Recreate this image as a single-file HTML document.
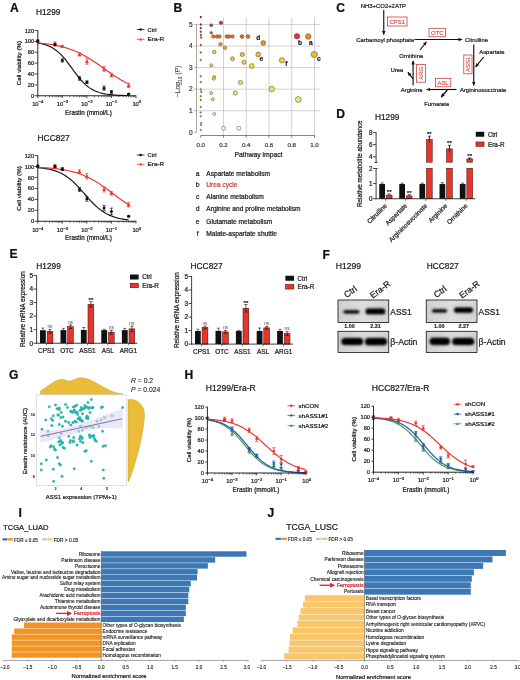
<!DOCTYPE html>
<html lang="en"><head><meta charset="utf-8"><title>Figure</title>
<style>
html,body{margin:0;padding:0;background:#fff;}
svg text{stroke-width:0.22px;stroke:#1a1a1a}
svg{display:block;font-family:'Liberation Sans', Arial, sans-serif;}
</style></head><body>
<svg width="520" height="680" viewBox="0 0 520 680">
<rect width="520" height="680" fill="#ffffff"/>
<g fill="#1a1a1a" stroke="none">
<text x="10.00" y="11.96" font-size="12.1" font-weight="bold" fill="#111" style="stroke:#111;">A</text>
<text x="36.00" y="15.32" font-size="8.4" textLength="24.50" lengthAdjust="spacingAndGlyphs">H1299</text>
<path d="M37.80,43.01 L38.94,43.20 L40.07,43.41 L41.21,43.65 L42.34,43.91 L43.48,44.21 L44.61,44.53 L45.75,44.89 L46.88,45.29 L48.02,45.73 L49.15,46.21 L50.29,46.74 L51.43,47.33 L52.56,47.96 L53.70,48.66 L54.83,49.42 L55.97,50.24 L57.10,51.12 L58.24,52.08 L59.37,53.10 L60.51,54.19 L61.64,55.35 L62.78,56.58 L63.92,57.87 L65.05,59.22 L66.19,60.63 L67.32,62.08 L68.46,63.58 L69.59,65.10 L70.73,66.65 L71.86,68.21 L73.00,69.77 L74.13,71.33 L75.27,72.86 L76.40,74.37 L77.54,75.84 L78.68,77.27 L79.81,78.65 L80.95,79.97 L82.08,81.22 L83.22,82.42 L84.35,83.54 L85.49,84.59 L86.62,85.58 L87.76,86.50 L88.89,87.35 L90.03,88.13 L91.17,88.85 L92.30,89.52 L93.44,90.12 L94.57,90.68 L95.71,91.18 L96.84,91.64 L97.98,92.06 L99.11,92.43 L100.25,92.77 L101.38,93.08 L102.52,93.36 L103.66,93.61 L104.79,93.83 L105.93,94.04 L107.06,94.22 L108.20,94.38 L109.33,94.52 L110.47,94.65 L111.60,94.77 L112.74,94.88 L113.87,94.97 L115.01,95.05 L116.15,95.13 L117.28,95.20 L118.42,95.25 L119.55,95.31 L120.69,95.36 L121.82,95.40 L122.96,95.44 L124.09,95.47 L125.23,95.50 L126.36,95.53 L127.50,95.55 L128.63,95.57" fill="none" stroke="#111111" stroke-width="1.15" stroke-linejoin="round"/>
<path d="M37.80,43.00 L38.94,43.10 L40.07,43.20 L41.21,43.31 L42.34,43.42 L43.48,43.54 L44.61,43.67 L45.75,43.80 L46.88,43.95 L48.02,44.10 L49.15,44.25 L50.29,44.42 L51.43,44.60 L52.56,44.78 L53.70,44.98 L54.83,45.19 L55.97,45.40 L57.10,45.63 L58.24,45.87 L59.37,46.12 L60.51,46.39 L61.64,46.66 L62.78,46.96 L63.92,47.26 L65.05,47.58 L66.19,47.92 L67.32,48.27 L68.46,48.64 L69.59,49.02 L70.73,49.42 L71.86,49.84 L73.00,50.27 L74.13,50.73 L75.27,51.20 L76.40,51.69 L77.54,52.19 L78.68,52.72 L79.81,53.26 L80.95,53.83 L82.08,54.41 L83.22,55.01 L84.35,55.63 L85.49,56.26 L86.62,56.92 L87.76,57.59 L88.89,58.27 L90.03,58.98 L91.17,59.69 L92.30,60.42 L93.44,61.17 L94.57,61.93 L95.71,62.69 L96.84,63.47 L97.98,64.26 L99.11,65.05 L100.25,65.85 L101.38,66.66 L102.52,67.46 L103.66,68.27 L104.79,69.08 L105.93,69.89 L107.06,70.70 L108.20,71.50 L109.33,72.30 L110.47,73.10 L111.60,73.88 L112.74,74.65 L113.87,75.42 L115.01,76.17 L116.15,76.91 L117.28,77.64 L118.42,78.35 L119.55,79.05 L120.69,79.73 L121.82,80.40 L122.96,81.05 L124.09,81.68 L125.23,82.29 L126.36,82.89 L127.50,83.46 L128.63,84.02" fill="none" stroke="#e8352b" stroke-width="1.15" stroke-linejoin="round"/>
<path d="M37.80,39.35 L39.75,42.88 L35.85,42.88Z" fill="#e8352b" />
<line x1="54.96" y1="41.92" x2="54.96" y2="45.18" stroke="#e8352b" stroke-width="0.7" />
<line x1="53.36" y1="41.92" x2="56.56" y2="41.92" stroke="#e8352b" stroke-width="0.7" />
<line x1="53.36" y1="45.18" x2="56.56" y2="45.18" stroke="#e8352b" stroke-width="0.7" />
<path d="M54.96,41.53 L56.91,45.05 L53.01,45.05Z" fill="#e8352b" />
<line x1="62.35" y1="45.45" x2="62.35" y2="47.08" stroke="#e8352b" stroke-width="0.7" />
<line x1="60.75" y1="45.45" x2="63.95" y2="45.45" stroke="#e8352b" stroke-width="0.7" />
<line x1="60.75" y1="47.08" x2="63.95" y2="47.08" stroke="#e8352b" stroke-width="0.7" />
<path d="M62.35,44.24 L64.30,47.77 L60.40,47.77Z" fill="#e8352b" />
<line x1="79.51" y1="52.79" x2="79.51" y2="56.06" stroke="#e8352b" stroke-width="0.7" />
<line x1="77.91" y1="52.79" x2="81.11" y2="52.79" stroke="#e8352b" stroke-width="0.7" />
<line x1="77.91" y1="56.06" x2="81.11" y2="56.06" stroke="#e8352b" stroke-width="0.7" />
<path d="M79.51,52.40 L81.46,55.93 L77.56,55.93Z" fill="#e8352b" />
<line x1="86.90" y1="58.78" x2="86.90" y2="64.21" stroke="#e8352b" stroke-width="0.7" />
<line x1="85.30" y1="58.78" x2="88.50" y2="58.78" stroke="#e8352b" stroke-width="0.7" />
<line x1="85.30" y1="64.21" x2="88.50" y2="64.21" stroke="#e8352b" stroke-width="0.7" />
<path d="M86.90,59.47 L88.85,62.99 L84.95,62.99Z" fill="#e8352b" />
<line x1="104.06" y1="66.66" x2="104.06" y2="71.55" stroke="#e8352b" stroke-width="0.7" />
<line x1="102.46" y1="66.66" x2="105.66" y2="66.66" stroke="#e8352b" stroke-width="0.7" />
<line x1="102.46" y1="71.55" x2="105.66" y2="71.55" stroke="#e8352b" stroke-width="0.7" />
<path d="M104.06,67.08 L106.01,70.61 L102.11,70.61Z" fill="#e8352b" />
<line x1="111.45" y1="73.18" x2="111.45" y2="76.99" stroke="#e8352b" stroke-width="0.7" />
<line x1="109.85" y1="73.18" x2="113.05" y2="73.18" stroke="#e8352b" stroke-width="0.7" />
<line x1="109.85" y1="76.99" x2="113.05" y2="76.99" stroke="#e8352b" stroke-width="0.7" />
<path d="M111.45,73.06 L113.40,76.59 L109.50,76.59Z" fill="#e8352b" />
<line x1="128.61" y1="83.24" x2="128.61" y2="87.59" stroke="#e8352b" stroke-width="0.7" />
<line x1="127.01" y1="83.24" x2="130.21" y2="83.24" stroke="#e8352b" stroke-width="0.7" />
<line x1="127.01" y1="87.59" x2="130.21" y2="87.59" stroke="#e8352b" stroke-width="0.7" />
<path d="M128.61,83.39 L130.56,86.92 L126.66,86.92Z" fill="#e8352b" />
<line x1="37.80" y1="40.02" x2="37.80" y2="41.65" stroke="#111111" stroke-width="0.7" />
<line x1="36.20" y1="40.02" x2="39.40" y2="40.02" stroke="#111111" stroke-width="0.7" />
<line x1="36.20" y1="41.65" x2="39.40" y2="41.65" stroke="#111111" stroke-width="0.7" />
<circle cx="37.80" cy="40.83" r="1.50" fill="#111111" />
<line x1="54.96" y1="43.55" x2="54.96" y2="45.73" stroke="#111111" stroke-width="0.7" />
<line x1="53.36" y1="43.55" x2="56.56" y2="43.55" stroke="#111111" stroke-width="0.7" />
<line x1="53.36" y1="45.73" x2="56.56" y2="45.73" stroke="#111111" stroke-width="0.7" />
<circle cx="54.96" cy="44.64" r="1.50" fill="#111111" />
<line x1="62.35" y1="58.78" x2="62.35" y2="62.04" stroke="#111111" stroke-width="0.7" />
<line x1="60.75" y1="58.78" x2="63.95" y2="58.78" stroke="#111111" stroke-width="0.7" />
<line x1="60.75" y1="62.04" x2="63.95" y2="62.04" stroke="#111111" stroke-width="0.7" />
<circle cx="62.35" cy="60.41" r="1.50" fill="#111111" />
<line x1="79.51" y1="76.45" x2="79.51" y2="80.25" stroke="#111111" stroke-width="0.7" />
<line x1="77.91" y1="76.45" x2="81.11" y2="76.45" stroke="#111111" stroke-width="0.7" />
<line x1="77.91" y1="80.25" x2="81.11" y2="80.25" stroke="#111111" stroke-width="0.7" />
<circle cx="79.51" cy="78.35" r="1.50" fill="#111111" />
<line x1="86.90" y1="80.80" x2="86.90" y2="83.52" stroke="#111111" stroke-width="0.7" />
<line x1="85.30" y1="80.80" x2="88.50" y2="80.80" stroke="#111111" stroke-width="0.7" />
<line x1="85.30" y1="83.52" x2="88.50" y2="83.52" stroke="#111111" stroke-width="0.7" />
<circle cx="86.90" cy="82.16" r="1.50" fill="#111111" />
<line x1="104.06" y1="85.96" x2="104.06" y2="90.31" stroke="#111111" stroke-width="0.7" />
<line x1="102.46" y1="85.96" x2="105.66" y2="85.96" stroke="#111111" stroke-width="0.7" />
<line x1="102.46" y1="90.31" x2="105.66" y2="90.31" stroke="#111111" stroke-width="0.7" />
<circle cx="104.06" cy="88.14" r="1.50" fill="#111111" />
<line x1="111.45" y1="90.58" x2="111.45" y2="93.30" stroke="#111111" stroke-width="0.7" />
<line x1="109.85" y1="90.58" x2="113.05" y2="90.58" stroke="#111111" stroke-width="0.7" />
<line x1="109.85" y1="93.30" x2="113.05" y2="93.30" stroke="#111111" stroke-width="0.7" />
<circle cx="111.45" cy="91.94" r="1.50" fill="#111111" />
<line x1="128.61" y1="93.58" x2="128.61" y2="94.66" stroke="#111111" stroke-width="0.7" />
<line x1="127.01" y1="93.58" x2="130.21" y2="93.58" stroke="#111111" stroke-width="0.7" />
<line x1="127.01" y1="94.66" x2="130.21" y2="94.66" stroke="#111111" stroke-width="0.7" />
<circle cx="128.61" cy="94.12" r="1.50" fill="#111111" />
<line x1="37.80" y1="30.20" x2="37.80" y2="96.20" stroke="#111" stroke-width="0.9" />
<line x1="37.35" y1="95.75" x2="136.30" y2="95.75" stroke="#111" stroke-width="0.9" />
<line x1="34.50" y1="95.75" x2="37.80" y2="95.75" stroke="#111" stroke-width="0.75" />
<text x="34.20" y="97.80" font-size="5.7" text-anchor="end">0</text>
<line x1="34.50" y1="84.88" x2="37.80" y2="84.88" stroke="#111" stroke-width="0.75" />
<text x="34.20" y="86.93" font-size="5.7" text-anchor="end">20</text>
<line x1="34.50" y1="74.00" x2="37.80" y2="74.00" stroke="#111" stroke-width="0.75" />
<text x="34.20" y="76.05" font-size="5.7" text-anchor="end">40</text>
<line x1="34.50" y1="63.12" x2="37.80" y2="63.12" stroke="#111" stroke-width="0.75" />
<text x="34.20" y="65.18" font-size="5.7" text-anchor="end">60</text>
<line x1="34.50" y1="52.25" x2="37.80" y2="52.25" stroke="#111" stroke-width="0.75" />
<text x="34.20" y="54.30" font-size="5.7" text-anchor="end">80</text>
<line x1="34.50" y1="41.38" x2="37.80" y2="41.38" stroke="#111" stroke-width="0.75" />
<text x="34.20" y="43.43" font-size="5.7" text-anchor="end">100</text>
<line x1="34.50" y1="30.50" x2="37.80" y2="30.50" stroke="#111" stroke-width="0.75" />
<text x="34.20" y="32.55" font-size="5.7" text-anchor="end">120</text>
<line x1="37.80" y1="95.75" x2="37.80" y2="98.15" stroke="#111" stroke-width="0.7" />
<line x1="45.19" y1="95.75" x2="45.19" y2="97.25" stroke="#111" stroke-width="0.6" />
<line x1="49.51" y1="95.75" x2="49.51" y2="97.25" stroke="#111" stroke-width="0.6" />
<line x1="52.58" y1="95.75" x2="52.58" y2="97.25" stroke="#111" stroke-width="0.6" />
<line x1="54.96" y1="95.75" x2="54.96" y2="97.25" stroke="#111" stroke-width="0.6" />
<line x1="56.90" y1="95.75" x2="56.90" y2="97.25" stroke="#111" stroke-width="0.6" />
<line x1="58.55" y1="95.75" x2="58.55" y2="97.25" stroke="#111" stroke-width="0.6" />
<line x1="59.97" y1="95.75" x2="59.97" y2="97.25" stroke="#111" stroke-width="0.6" />
<line x1="61.23" y1="95.75" x2="61.23" y2="97.25" stroke="#111" stroke-width="0.6" />
<text x="37.80" y="105.69" font-size="5.8" text-anchor="middle">10<tspan dy="-2.20" font-size="4.29">−4</tspan></text>
<line x1="62.35" y1="95.75" x2="62.35" y2="98.15" stroke="#111" stroke-width="0.7" />
<line x1="69.74" y1="95.75" x2="69.74" y2="97.25" stroke="#111" stroke-width="0.6" />
<line x1="74.06" y1="95.75" x2="74.06" y2="97.25" stroke="#111" stroke-width="0.6" />
<line x1="77.13" y1="95.75" x2="77.13" y2="97.25" stroke="#111" stroke-width="0.6" />
<line x1="79.51" y1="95.75" x2="79.51" y2="97.25" stroke="#111" stroke-width="0.6" />
<line x1="81.45" y1="95.75" x2="81.45" y2="97.25" stroke="#111" stroke-width="0.6" />
<line x1="83.10" y1="95.75" x2="83.10" y2="97.25" stroke="#111" stroke-width="0.6" />
<line x1="84.52" y1="95.75" x2="84.52" y2="97.25" stroke="#111" stroke-width="0.6" />
<line x1="85.78" y1="95.75" x2="85.78" y2="97.25" stroke="#111" stroke-width="0.6" />
<text x="62.35" y="105.69" font-size="5.8" text-anchor="middle">10<tspan dy="-2.20" font-size="4.29">−3</tspan></text>
<line x1="86.90" y1="95.75" x2="86.90" y2="98.15" stroke="#111" stroke-width="0.7" />
<line x1="94.29" y1="95.75" x2="94.29" y2="97.25" stroke="#111" stroke-width="0.6" />
<line x1="98.61" y1="95.75" x2="98.61" y2="97.25" stroke="#111" stroke-width="0.6" />
<line x1="101.68" y1="95.75" x2="101.68" y2="97.25" stroke="#111" stroke-width="0.6" />
<line x1="104.06" y1="95.75" x2="104.06" y2="97.25" stroke="#111" stroke-width="0.6" />
<line x1="106.00" y1="95.75" x2="106.00" y2="97.25" stroke="#111" stroke-width="0.6" />
<line x1="107.65" y1="95.75" x2="107.65" y2="97.25" stroke="#111" stroke-width="0.6" />
<line x1="109.07" y1="95.75" x2="109.07" y2="97.25" stroke="#111" stroke-width="0.6" />
<line x1="110.33" y1="95.75" x2="110.33" y2="97.25" stroke="#111" stroke-width="0.6" />
<text x="86.90" y="105.69" font-size="5.8" text-anchor="middle">10<tspan dy="-2.20" font-size="4.29">−2</tspan></text>
<line x1="111.45" y1="95.75" x2="111.45" y2="98.15" stroke="#111" stroke-width="0.7" />
<line x1="118.84" y1="95.75" x2="118.84" y2="97.25" stroke="#111" stroke-width="0.6" />
<line x1="123.16" y1="95.75" x2="123.16" y2="97.25" stroke="#111" stroke-width="0.6" />
<line x1="126.23" y1="95.75" x2="126.23" y2="97.25" stroke="#111" stroke-width="0.6" />
<line x1="128.61" y1="95.75" x2="128.61" y2="97.25" stroke="#111" stroke-width="0.6" />
<line x1="130.55" y1="95.75" x2="130.55" y2="97.25" stroke="#111" stroke-width="0.6" />
<line x1="132.20" y1="95.75" x2="132.20" y2="97.25" stroke="#111" stroke-width="0.6" />
<line x1="133.62" y1="95.75" x2="133.62" y2="97.25" stroke="#111" stroke-width="0.6" />
<line x1="134.88" y1="95.75" x2="134.88" y2="97.25" stroke="#111" stroke-width="0.6" />
<text x="111.45" y="105.69" font-size="5.8" text-anchor="middle">10<tspan dy="-2.20" font-size="4.29">−1</tspan></text>
<line x1="136.00" y1="95.75" x2="136.00" y2="98.15" stroke="#111" stroke-width="0.7" />
<text x="136.80" y="105.69" font-size="5.8" text-anchor="middle">10<tspan dy="-2.20" font-size="4.29">0</tspan></text>
<text x="0" y="2.23" font-size="6.2" text-anchor="middle" textLength="44.50" lengthAdjust="spacingAndGlyphs" transform="translate(18.30 63.12) rotate(-90)">Cell viability (%)</text>
<text x="88.40" y="114.77" font-size="6.3" text-anchor="middle" textLength="46.80" lengthAdjust="spacingAndGlyphs">Erastin (mmol/L)</text>
<line x1="136.75" y1="29.50" x2="144.50" y2="29.50" stroke="#111111" stroke-width="0.8" />
<circle cx="140.62" cy="29.50" r="1.30" fill="#111111" />
<text x="147.50" y="31.66" font-size="6.0" textLength="9.00" lengthAdjust="spacingAndGlyphs">Ctrl</text>
<line x1="136.75" y1="39.25" x2="144.50" y2="39.25" stroke="#e8352b" stroke-width="0.8" />
<path d="M140.62,37.69 L142.12,40.42 L139.13,40.42Z" fill="#e8352b" />
<text x="147.50" y="41.41" font-size="6.0" textLength="16.70" lengthAdjust="spacingAndGlyphs">Era-R</text>
<text x="37.50" y="141.02" font-size="8.4" textLength="32.30" lengthAdjust="spacingAndGlyphs">HCC827</text>
<path d="M37.80,167.63 L38.94,167.73 L40.07,167.85 L41.21,167.97 L42.34,168.11 L43.48,168.26 L44.61,168.43 L45.75,168.61 L46.88,168.81 L48.02,169.02 L49.15,169.26 L50.29,169.51 L51.43,169.79 L52.56,170.09 L53.70,170.42 L54.83,170.78 L55.97,171.16 L57.10,171.58 L58.24,172.03 L59.37,172.51 L60.51,173.04 L61.64,173.60 L62.78,174.20 L63.92,174.85 L65.05,175.54 L66.19,176.28 L67.32,177.06 L68.46,177.89 L69.59,178.76 L70.73,179.68 L71.86,180.65 L73.00,181.67 L74.13,182.73 L75.27,183.83 L76.40,184.97 L77.54,186.14 L78.68,187.35 L79.81,188.59 L80.95,189.85 L82.08,191.12 L83.22,192.41 L84.35,193.70 L85.49,195.00 L86.62,196.29 L87.76,197.57 L88.89,198.83 L90.03,200.08 L91.17,201.29 L92.30,202.48 L93.44,203.63 L94.57,204.74 L95.71,205.81 L96.84,206.84 L97.98,207.83 L99.11,208.76 L100.25,209.65 L101.38,210.49 L102.52,211.29 L103.66,212.04 L104.79,212.74 L105.93,213.40 L107.06,214.02 L108.20,214.59 L109.33,215.13 L110.47,215.62 L111.60,216.08 L112.74,216.51 L113.87,216.91 L115.01,217.27 L116.15,217.61 L117.28,217.91 L118.42,218.20 L119.55,218.46 L120.69,218.70 L121.82,218.92 L122.96,219.12 L124.09,219.31 L125.23,219.48 L126.36,219.64 L127.50,219.78 L128.63,219.91" fill="none" stroke="#111111" stroke-width="1.15" stroke-linejoin="round"/>
<path d="M37.80,167.36 L38.94,167.42 L40.07,167.47 L41.21,167.53 L42.34,167.59 L43.48,167.66 L44.61,167.73 L45.75,167.81 L46.88,167.89 L48.02,167.97 L49.15,168.06 L50.29,168.16 L51.43,168.26 L52.56,168.37 L53.70,168.48 L54.83,168.60 L55.97,168.73 L57.10,168.87 L58.24,169.01 L59.37,169.16 L60.51,169.32 L61.64,169.49 L62.78,169.68 L63.92,169.87 L65.05,170.07 L66.19,170.28 L67.32,170.51 L68.46,170.74 L69.59,170.99 L70.73,171.26 L71.86,171.54 L73.00,171.83 L74.13,172.14 L75.27,172.46 L76.40,172.80 L77.54,173.16 L78.68,173.53 L79.81,173.92 L80.95,174.33 L82.08,174.76 L83.22,175.21 L84.35,175.68 L85.49,176.17 L86.62,176.67 L87.76,177.20 L88.89,177.75 L90.03,178.32 L91.17,178.92 L92.30,179.53 L93.44,180.16 L94.57,180.81 L95.71,181.48 L96.84,182.18 L97.98,182.89 L99.11,183.62 L100.25,184.36 L101.38,185.13 L102.52,185.91 L103.66,186.70 L104.79,187.50 L105.93,188.32 L107.06,189.15 L108.20,189.99 L109.33,190.83 L110.47,191.69 L111.60,192.54 L112.74,193.40 L113.87,194.26 L115.01,195.12 L116.15,195.97 L117.28,196.83 L118.42,197.67 L119.55,198.51 L120.69,199.34 L121.82,200.16 L122.96,200.97 L124.09,201.77 L125.23,202.55 L126.36,203.31 L127.50,204.06 L128.63,204.79" fill="none" stroke="#e8352b" stroke-width="1.15" stroke-linejoin="round"/>
<path d="M37.80,164.52 L39.75,168.04 L35.85,168.04Z" fill="#e8352b" />
<line x1="54.96" y1="164.35" x2="54.96" y2="167.64" stroke="#e8352b" stroke-width="0.7" />
<line x1="53.36" y1="164.35" x2="56.56" y2="164.35" stroke="#e8352b" stroke-width="0.7" />
<line x1="53.36" y1="167.64" x2="56.56" y2="167.64" stroke="#e8352b" stroke-width="0.7" />
<path d="M54.96,163.97 L56.91,167.49 L53.01,167.49Z" fill="#e8352b" />
<line x1="62.35" y1="167.64" x2="62.35" y2="169.82" stroke="#e8352b" stroke-width="0.7" />
<line x1="60.75" y1="167.64" x2="63.95" y2="167.64" stroke="#e8352b" stroke-width="0.7" />
<line x1="60.75" y1="169.82" x2="63.95" y2="169.82" stroke="#e8352b" stroke-width="0.7" />
<path d="M62.35,166.70 L64.30,170.23 L60.40,170.23Z" fill="#e8352b" />
<line x1="79.51" y1="169.82" x2="79.51" y2="173.11" stroke="#e8352b" stroke-width="0.7" />
<line x1="77.91" y1="169.82" x2="81.11" y2="169.82" stroke="#e8352b" stroke-width="0.7" />
<line x1="77.91" y1="173.11" x2="81.11" y2="173.11" stroke="#e8352b" stroke-width="0.7" />
<path d="M79.51,169.44 L81.46,172.97 L77.56,172.97Z" fill="#e8352b" />
<line x1="86.90" y1="173.65" x2="86.90" y2="179.12" stroke="#e8352b" stroke-width="0.7" />
<line x1="85.30" y1="173.65" x2="88.50" y2="173.65" stroke="#e8352b" stroke-width="0.7" />
<line x1="85.30" y1="179.12" x2="88.50" y2="179.12" stroke="#e8352b" stroke-width="0.7" />
<path d="M86.90,174.36 L88.85,177.89 L84.95,177.89Z" fill="#e8352b" />
<line x1="104.06" y1="187.06" x2="104.06" y2="191.98" stroke="#e8352b" stroke-width="0.7" />
<line x1="102.46" y1="187.06" x2="105.66" y2="187.06" stroke="#e8352b" stroke-width="0.7" />
<line x1="102.46" y1="191.98" x2="105.66" y2="191.98" stroke="#e8352b" stroke-width="0.7" />
<path d="M104.06,187.49 L106.01,191.02 L102.11,191.02Z" fill="#e8352b" />
<line x1="111.45" y1="191.71" x2="111.45" y2="194.99" stroke="#e8352b" stroke-width="0.7" />
<line x1="109.85" y1="191.71" x2="113.05" y2="191.71" stroke="#e8352b" stroke-width="0.7" />
<line x1="109.85" y1="194.99" x2="113.05" y2="194.99" stroke="#e8352b" stroke-width="0.7" />
<path d="M111.45,191.32 L113.40,194.85 L109.50,194.85Z" fill="#e8352b" />
<line x1="128.61" y1="202.65" x2="128.61" y2="207.03" stroke="#e8352b" stroke-width="0.7" />
<line x1="127.01" y1="202.65" x2="130.21" y2="202.65" stroke="#e8352b" stroke-width="0.7" />
<line x1="127.01" y1="207.03" x2="130.21" y2="207.03" stroke="#e8352b" stroke-width="0.7" />
<path d="M128.61,202.81 L130.56,206.34 L126.66,206.34Z" fill="#e8352b" />
<line x1="37.80" y1="165.17" x2="37.80" y2="166.82" stroke="#111111" stroke-width="0.7" />
<line x1="36.20" y1="165.17" x2="39.40" y2="165.17" stroke="#111111" stroke-width="0.7" />
<line x1="36.20" y1="166.82" x2="39.40" y2="166.82" stroke="#111111" stroke-width="0.7" />
<circle cx="37.80" cy="165.99" r="1.50" fill="#111111" />
<line x1="54.96" y1="165.45" x2="54.96" y2="167.64" stroke="#111111" stroke-width="0.7" />
<line x1="53.36" y1="165.45" x2="56.56" y2="165.45" stroke="#111111" stroke-width="0.7" />
<line x1="53.36" y1="167.64" x2="56.56" y2="167.64" stroke="#111111" stroke-width="0.7" />
<circle cx="54.96" cy="166.54" r="1.50" fill="#111111" />
<line x1="62.35" y1="167.91" x2="62.35" y2="170.64" stroke="#111111" stroke-width="0.7" />
<line x1="60.75" y1="167.91" x2="63.95" y2="167.91" stroke="#111111" stroke-width="0.7" />
<line x1="60.75" y1="170.64" x2="63.95" y2="170.64" stroke="#111111" stroke-width="0.7" />
<circle cx="62.35" cy="169.28" r="1.50" fill="#111111" />
<line x1="79.51" y1="187.60" x2="79.51" y2="191.43" stroke="#111111" stroke-width="0.7" />
<line x1="77.91" y1="187.60" x2="81.11" y2="187.60" stroke="#111111" stroke-width="0.7" />
<line x1="77.91" y1="191.43" x2="81.11" y2="191.43" stroke="#111111" stroke-width="0.7" />
<circle cx="79.51" cy="189.52" r="1.50" fill="#111111" />
<line x1="86.90" y1="196.36" x2="86.90" y2="201.28" stroke="#111111" stroke-width="0.7" />
<line x1="85.30" y1="196.36" x2="88.50" y2="196.36" stroke="#111111" stroke-width="0.7" />
<line x1="85.30" y1="201.28" x2="88.50" y2="201.28" stroke="#111111" stroke-width="0.7" />
<circle cx="86.90" cy="198.82" r="1.50" fill="#111111" />
<line x1="104.06" y1="205.38" x2="104.06" y2="210.86" stroke="#111111" stroke-width="0.7" />
<line x1="102.46" y1="205.38" x2="105.66" y2="205.38" stroke="#111111" stroke-width="0.7" />
<line x1="102.46" y1="210.86" x2="105.66" y2="210.86" stroke="#111111" stroke-width="0.7" />
<circle cx="104.06" cy="208.12" r="1.50" fill="#111111" />
<line x1="111.45" y1="208.12" x2="111.45" y2="214.69" stroke="#111111" stroke-width="0.7" />
<line x1="109.85" y1="208.12" x2="113.05" y2="208.12" stroke="#111111" stroke-width="0.7" />
<line x1="109.85" y1="214.69" x2="113.05" y2="214.69" stroke="#111111" stroke-width="0.7" />
<circle cx="111.45" cy="211.40" r="1.50" fill="#111111" />
<line x1="128.61" y1="215.78" x2="128.61" y2="216.87" stroke="#111111" stroke-width="0.7" />
<line x1="127.01" y1="215.78" x2="130.21" y2="215.78" stroke="#111111" stroke-width="0.7" />
<line x1="127.01" y1="216.87" x2="130.21" y2="216.87" stroke="#111111" stroke-width="0.7" />
<circle cx="128.61" cy="216.33" r="1.50" fill="#111111" />
<line x1="37.80" y1="155.30" x2="37.80" y2="221.70" stroke="#111" stroke-width="0.9" />
<line x1="37.35" y1="221.25" x2="136.30" y2="221.25" stroke="#111" stroke-width="0.9" />
<line x1="34.50" y1="221.25" x2="37.80" y2="221.25" stroke="#111" stroke-width="0.75" />
<text x="34.20" y="223.30" font-size="5.7" text-anchor="end">0</text>
<line x1="34.50" y1="210.31" x2="37.80" y2="210.31" stroke="#111" stroke-width="0.75" />
<text x="34.20" y="212.36" font-size="5.7" text-anchor="end">20</text>
<line x1="34.50" y1="199.37" x2="37.80" y2="199.37" stroke="#111" stroke-width="0.75" />
<text x="34.20" y="201.42" font-size="5.7" text-anchor="end">40</text>
<line x1="34.50" y1="188.43" x2="37.80" y2="188.43" stroke="#111" stroke-width="0.75" />
<text x="34.20" y="190.48" font-size="5.7" text-anchor="end">60</text>
<line x1="34.50" y1="177.48" x2="37.80" y2="177.48" stroke="#111" stroke-width="0.75" />
<text x="34.20" y="179.54" font-size="5.7" text-anchor="end">80</text>
<line x1="34.50" y1="166.54" x2="37.80" y2="166.54" stroke="#111" stroke-width="0.75" />
<text x="34.20" y="168.59" font-size="5.7" text-anchor="end">100</text>
<line x1="34.50" y1="155.60" x2="37.80" y2="155.60" stroke="#111" stroke-width="0.75" />
<text x="34.20" y="157.65" font-size="5.7" text-anchor="end">120</text>
<line x1="37.80" y1="221.25" x2="37.80" y2="223.65" stroke="#111" stroke-width="0.7" />
<line x1="45.19" y1="221.25" x2="45.19" y2="222.75" stroke="#111" stroke-width="0.6" />
<line x1="49.51" y1="221.25" x2="49.51" y2="222.75" stroke="#111" stroke-width="0.6" />
<line x1="52.58" y1="221.25" x2="52.58" y2="222.75" stroke="#111" stroke-width="0.6" />
<line x1="54.96" y1="221.25" x2="54.96" y2="222.75" stroke="#111" stroke-width="0.6" />
<line x1="56.90" y1="221.25" x2="56.90" y2="222.75" stroke="#111" stroke-width="0.6" />
<line x1="58.55" y1="221.25" x2="58.55" y2="222.75" stroke="#111" stroke-width="0.6" />
<line x1="59.97" y1="221.25" x2="59.97" y2="222.75" stroke="#111" stroke-width="0.6" />
<line x1="61.23" y1="221.25" x2="61.23" y2="222.75" stroke="#111" stroke-width="0.6" />
<text x="37.80" y="231.94" font-size="5.8" text-anchor="middle">10<tspan dy="-2.20" font-size="4.29">−4</tspan></text>
<line x1="62.35" y1="221.25" x2="62.35" y2="223.65" stroke="#111" stroke-width="0.7" />
<line x1="69.74" y1="221.25" x2="69.74" y2="222.75" stroke="#111" stroke-width="0.6" />
<line x1="74.06" y1="221.25" x2="74.06" y2="222.75" stroke="#111" stroke-width="0.6" />
<line x1="77.13" y1="221.25" x2="77.13" y2="222.75" stroke="#111" stroke-width="0.6" />
<line x1="79.51" y1="221.25" x2="79.51" y2="222.75" stroke="#111" stroke-width="0.6" />
<line x1="81.45" y1="221.25" x2="81.45" y2="222.75" stroke="#111" stroke-width="0.6" />
<line x1="83.10" y1="221.25" x2="83.10" y2="222.75" stroke="#111" stroke-width="0.6" />
<line x1="84.52" y1="221.25" x2="84.52" y2="222.75" stroke="#111" stroke-width="0.6" />
<line x1="85.78" y1="221.25" x2="85.78" y2="222.75" stroke="#111" stroke-width="0.6" />
<text x="62.35" y="231.94" font-size="5.8" text-anchor="middle">10<tspan dy="-2.20" font-size="4.29">−3</tspan></text>
<line x1="86.90" y1="221.25" x2="86.90" y2="223.65" stroke="#111" stroke-width="0.7" />
<line x1="94.29" y1="221.25" x2="94.29" y2="222.75" stroke="#111" stroke-width="0.6" />
<line x1="98.61" y1="221.25" x2="98.61" y2="222.75" stroke="#111" stroke-width="0.6" />
<line x1="101.68" y1="221.25" x2="101.68" y2="222.75" stroke="#111" stroke-width="0.6" />
<line x1="104.06" y1="221.25" x2="104.06" y2="222.75" stroke="#111" stroke-width="0.6" />
<line x1="106.00" y1="221.25" x2="106.00" y2="222.75" stroke="#111" stroke-width="0.6" />
<line x1="107.65" y1="221.25" x2="107.65" y2="222.75" stroke="#111" stroke-width="0.6" />
<line x1="109.07" y1="221.25" x2="109.07" y2="222.75" stroke="#111" stroke-width="0.6" />
<line x1="110.33" y1="221.25" x2="110.33" y2="222.75" stroke="#111" stroke-width="0.6" />
<text x="86.90" y="231.94" font-size="5.8" text-anchor="middle">10<tspan dy="-2.20" font-size="4.29">−2</tspan></text>
<line x1="111.45" y1="221.25" x2="111.45" y2="223.65" stroke="#111" stroke-width="0.7" />
<line x1="118.84" y1="221.25" x2="118.84" y2="222.75" stroke="#111" stroke-width="0.6" />
<line x1="123.16" y1="221.25" x2="123.16" y2="222.75" stroke="#111" stroke-width="0.6" />
<line x1="126.23" y1="221.25" x2="126.23" y2="222.75" stroke="#111" stroke-width="0.6" />
<line x1="128.61" y1="221.25" x2="128.61" y2="222.75" stroke="#111" stroke-width="0.6" />
<line x1="130.55" y1="221.25" x2="130.55" y2="222.75" stroke="#111" stroke-width="0.6" />
<line x1="132.20" y1="221.25" x2="132.20" y2="222.75" stroke="#111" stroke-width="0.6" />
<line x1="133.62" y1="221.25" x2="133.62" y2="222.75" stroke="#111" stroke-width="0.6" />
<line x1="134.88" y1="221.25" x2="134.88" y2="222.75" stroke="#111" stroke-width="0.6" />
<text x="111.45" y="231.94" font-size="5.8" text-anchor="middle">10<tspan dy="-2.20" font-size="4.29">−1</tspan></text>
<line x1="136.00" y1="221.25" x2="136.00" y2="223.65" stroke="#111" stroke-width="0.7" />
<text x="136.80" y="231.94" font-size="5.8" text-anchor="middle">10<tspan dy="-2.20" font-size="4.29">0</tspan></text>
<text x="0" y="2.23" font-size="6.2" text-anchor="middle" textLength="44.50" lengthAdjust="spacingAndGlyphs" transform="translate(18.30 188.43) rotate(-90)">Cell viability (%)</text>
<text x="88.40" y="240.27" font-size="6.3" text-anchor="middle" textLength="46.80" lengthAdjust="spacingAndGlyphs">Erastin (mmol/L)</text>
<line x1="136.75" y1="155.00" x2="144.50" y2="155.00" stroke="#111111" stroke-width="0.8" />
<circle cx="140.62" cy="155.00" r="1.30" fill="#111111" />
<text x="147.50" y="157.16" font-size="6.0" textLength="9.00" lengthAdjust="spacingAndGlyphs">Ctrl</text>
<line x1="136.75" y1="164.25" x2="144.50" y2="164.25" stroke="#e8352b" stroke-width="0.8" />
<path d="M140.62,162.69 L142.12,165.42 L139.13,165.42Z" fill="#e8352b" />
<text x="147.50" y="166.41" font-size="6.0" textLength="16.70" lengthAdjust="spacingAndGlyphs">Era-R</text>
<text x="173.60" y="11.96" font-size="12.1" font-weight="bold" fill="#111" style="stroke:#111;">B</text>
<line x1="223.50" y1="17.50" x2="223.50" y2="135.50" stroke="#b0b4bc" stroke-width="0.6" />
<line x1="246.25" y1="17.50" x2="246.25" y2="135.50" stroke="#b0b4bc" stroke-width="0.6" />
<line x1="269.00" y1="17.50" x2="269.00" y2="135.50" stroke="#b0b4bc" stroke-width="0.6" />
<line x1="291.75" y1="17.50" x2="291.75" y2="135.50" stroke="#b0b4bc" stroke-width="0.6" />
<line x1="314.50" y1="17.50" x2="314.50" y2="135.50" stroke="#b0b4bc" stroke-width="0.6" />
<line x1="196.50" y1="110.70" x2="320.00" y2="110.70" stroke="#b0b4bc" stroke-width="0.6" />
<line x1="196.50" y1="89.15" x2="320.00" y2="89.15" stroke="#b0b4bc" stroke-width="0.6" />
<line x1="196.50" y1="67.60" x2="320.00" y2="67.60" stroke="#b0b4bc" stroke-width="0.6" />
<line x1="196.50" y1="46.05" x2="320.00" y2="46.05" stroke="#b0b4bc" stroke-width="0.6" />
<line x1="196.50" y1="24.50" x2="320.00" y2="24.50" stroke="#b0b4bc" stroke-width="0.6" />
<line x1="196.50" y1="132.25" x2="196.50" y2="24.50" stroke="#555" stroke-width="0.5" />
<line x1="194.30" y1="132.25" x2="196.50" y2="132.25" stroke="#555" stroke-width="0.5" />
<text x="192.60" y="134.59" font-size="6.5" text-anchor="end" fill="#3a3a3a" style="stroke:#3a3a3a;">0</text>
<line x1="194.30" y1="110.70" x2="196.50" y2="110.70" stroke="#555" stroke-width="0.5" />
<text x="192.60" y="113.04" font-size="6.5" text-anchor="end" fill="#3a3a3a" style="stroke:#3a3a3a;">1</text>
<line x1="194.30" y1="89.15" x2="196.50" y2="89.15" stroke="#555" stroke-width="0.5" />
<text x="192.60" y="91.49" font-size="6.5" text-anchor="end" fill="#3a3a3a" style="stroke:#3a3a3a;">2</text>
<line x1="194.30" y1="67.60" x2="196.50" y2="67.60" stroke="#555" stroke-width="0.5" />
<text x="192.60" y="69.94" font-size="6.5" text-anchor="end" fill="#3a3a3a" style="stroke:#3a3a3a;">3</text>
<line x1="194.30" y1="46.05" x2="196.50" y2="46.05" stroke="#555" stroke-width="0.5" />
<text x="192.60" y="48.39" font-size="6.5" text-anchor="end" fill="#3a3a3a" style="stroke:#3a3a3a;">4</text>
<line x1="194.30" y1="24.50" x2="196.50" y2="24.50" stroke="#555" stroke-width="0.5" />
<text x="192.60" y="26.84" font-size="6.5" text-anchor="end" fill="#3a3a3a" style="stroke:#3a3a3a;">5</text>
<line x1="200.75" y1="135.50" x2="314.50" y2="135.50" stroke="#333" stroke-width="0.6" />
<line x1="200.75" y1="135.50" x2="200.75" y2="137.80" stroke="#333" stroke-width="0.6" />
<text x="200.75" y="146.73" font-size="6.2" text-anchor="middle" fill="#3a3a3a" style="stroke:#3a3a3a;">0.0</text>
<line x1="223.50" y1="135.50" x2="223.50" y2="137.80" stroke="#333" stroke-width="0.6" />
<text x="223.50" y="146.73" font-size="6.2" text-anchor="middle" fill="#3a3a3a" style="stroke:#3a3a3a;">0.2</text>
<line x1="246.25" y1="135.50" x2="246.25" y2="137.80" stroke="#333" stroke-width="0.6" />
<text x="246.25" y="146.73" font-size="6.2" text-anchor="middle" fill="#3a3a3a" style="stroke:#3a3a3a;">0.4</text>
<line x1="269.00" y1="135.50" x2="269.00" y2="137.80" stroke="#333" stroke-width="0.6" />
<text x="269.00" y="146.73" font-size="6.2" text-anchor="middle" fill="#3a3a3a" style="stroke:#3a3a3a;">0.6</text>
<line x1="291.75" y1="135.50" x2="291.75" y2="137.80" stroke="#333" stroke-width="0.6" />
<text x="291.75" y="146.73" font-size="6.2" text-anchor="middle" fill="#3a3a3a" style="stroke:#3a3a3a;">0.8</text>
<line x1="314.50" y1="135.50" x2="314.50" y2="137.80" stroke="#333" stroke-width="0.6" />
<text x="314.50" y="146.73" font-size="6.2" text-anchor="middle" fill="#3a3a3a" style="stroke:#3a3a3a;">1.0</text>
<text x="258.50" y="157.45" font-size="6.8" text-anchor="middle" textLength="48.00" lengthAdjust="spacingAndGlyphs">Pathway impact</text>
<text x="0" y="2.4" font-size="6.9" text-anchor="middle" fill="#3a3a3a" style="stroke:#3a3a3a;stroke-width:0.1px" transform="translate(177.6 81.5) rotate(-90)">−Log<tspan dy="1.7" font-size="4.8">10</tspan><tspan dy="-1.7"> (</tspan><tspan font-style="italic">P</tspan>)</text>
<circle cx="200.75" cy="17.00" r="0.90" fill="#900e1c" stroke="#70101a" stroke-width="0.3" />
<circle cx="200.75" cy="24.50" r="0.90" fill="#9c1c28" stroke="#70101a" stroke-width="0.3" />
<circle cx="200.75" cy="28.00" r="0.90" fill="#a0222a" stroke="#70101a" stroke-width="0.3" />
<circle cx="200.75" cy="31.75" r="0.90" fill="#a53526" stroke="#70101a" stroke-width="0.3" />
<circle cx="200.75" cy="35.00" r="0.90" fill="#a9481f" stroke="#70101a" stroke-width="0.3" />
<circle cx="201.25" cy="37.50" r="0.90" fill="#aa531e" stroke="#70101a" stroke-width="0.3" />
<circle cx="200.75" cy="45.00" r="0.90" fill="#ad6e21" stroke="#70101a" stroke-width="0.3" />
<circle cx="200.75" cy="52.50" r="0.90" fill="#ae8226" stroke="#70101a" stroke-width="0.3" />
<circle cx="200.75" cy="60.00" r="0.90" fill="#ae9227" stroke="#70101a" stroke-width="0.3" />
<circle cx="200.75" cy="76.25" r="0.90" fill="#8f8a40" stroke="#5a4a20" stroke-width="0.3" />
<circle cx="200.75" cy="82.00" r="0.90" fill="#8f8a40" stroke="#5a4a20" stroke-width="0.3" />
<circle cx="200.75" cy="89.50" r="0.90" fill="#8f8a40" stroke="#5a4a20" stroke-width="0.3" />
<circle cx="201.25" cy="92.00" r="0.90" fill="#8f8a40" stroke="#5a4a20" stroke-width="0.3" />
<circle cx="200.75" cy="96.25" r="0.90" fill="#8f8a40" stroke="#5a4a20" stroke-width="0.3" />
<circle cx="200.75" cy="100.00" r="0.90" fill="#8f8a40" stroke="#5a4a20" stroke-width="0.3" />
<circle cx="200.75" cy="107.00" r="0.90" fill="#9a9a88" stroke="#5a4a20" stroke-width="0.3" />
<circle cx="200.75" cy="112.50" r="0.90" fill="#9a9a88" stroke="#5a4a20" stroke-width="0.3" />
<circle cx="200.75" cy="116.25" r="0.90" fill="#9a9a88" stroke="#5a4a20" stroke-width="0.3" />
<circle cx="201.25" cy="123.00" r="0.90" fill="#9a9a88" stroke="#5a4a20" stroke-width="0.3" />
<circle cx="200.75" cy="125.00" r="0.90" fill="#9a9a88" stroke="#5a4a20" stroke-width="0.3" />
<circle cx="200.75" cy="130.00" r="0.90" fill="#9a9a88" stroke="#5a4a20" stroke-width="0.3" />
<circle cx="211.25" cy="25.25" r="1.50" fill="#e03045" stroke="#5a4a2a" stroke-width="0.55" />
<circle cx="221.00" cy="22.75" r="1.75" fill="#d82838" stroke="#5a4a2a" stroke-width="0.55" />
<circle cx="211.25" cy="32.75" r="1.25" fill="#e0404a" stroke="#5a4a2a" stroke-width="0.55" />
<circle cx="213.25" cy="36.50" r="1.75" fill="#ec6f2a" stroke="#5a4a2a" stroke-width="0.55" />
<circle cx="217.00" cy="36.50" r="1.75" fill="#ec6f2a" stroke="#5a4a2a" stroke-width="0.55" />
<circle cx="219.50" cy="36.50" r="1.75" fill="#ec6f2a" stroke="#5a4a2a" stroke-width="0.55" />
<circle cx="226.75" cy="36.50" r="1.75" fill="#ec6f2a" stroke="#5a4a2a" stroke-width="0.55" />
<circle cx="229.00" cy="36.50" r="1.75" fill="#ec6f2a" stroke="#5a4a2a" stroke-width="0.55" />
<circle cx="232.50" cy="36.50" r="1.75" fill="#ec6f2a" stroke="#5a4a2a" stroke-width="0.55" />
<circle cx="242.00" cy="36.50" r="1.88" fill="#ec6f2a" stroke="#5a4a2a" stroke-width="0.55" />
<circle cx="248.00" cy="36.50" r="1.88" fill="#ec6f2a" stroke="#5a4a2a" stroke-width="0.55" />
<circle cx="297.00" cy="36.25" r="2.75" fill="#e8323c" stroke="#5a4a2a" stroke-width="0.55" />
<circle cx="308.25" cy="36.50" r="2.75" fill="#f28a25" stroke="#5a4a2a" stroke-width="0.55" />
<circle cx="220.50" cy="44.25" r="1.75" fill="#f1972f" stroke="#5a4a2a" stroke-width="0.55" />
<circle cx="225.00" cy="47.75" r="1.75" fill="#f2a632" stroke="#5a4a2a" stroke-width="0.55" />
<circle cx="263.25" cy="43.00" r="2.38" fill="#f0922d" stroke="#5a4a2a" stroke-width="0.55" />
<circle cx="214.25" cy="52.00" r="1.75" fill="#e8d84c" stroke="#5a4a2a" stroke-width="0.55" />
<circle cx="242.25" cy="54.50" r="2.12" fill="#f3bb37" stroke="#5a4a2a" stroke-width="0.55" />
<circle cx="258.25" cy="54.50" r="2.38" fill="#f3bb37" stroke="#5a4a2a" stroke-width="0.55" />
<circle cx="314.25" cy="54.50" r="3.12" fill="#e8b83a" stroke="#5a4a2a" stroke-width="0.55" />
<circle cx="232.50" cy="58.75" r="2.00" fill="#f3c737" stroke="#5a4a2a" stroke-width="0.55" />
<circle cx="244.00" cy="62.25" r="2.12" fill="#f3d238" stroke="#5a4a2a" stroke-width="0.55" />
<circle cx="282.00" cy="60.25" r="2.62" fill="#f3cc37" stroke="#5a4a2a" stroke-width="0.55" />
<circle cx="251.75" cy="66.00" r="2.38" fill="#f3de3c" stroke="#5a4a2a" stroke-width="0.55" />
<circle cx="211.25" cy="65.25" r="1.50" fill="#f3dd3c" stroke="#5a4a2a" stroke-width="0.55" />
<circle cx="214.25" cy="77.00" r="1.50" fill="#f0e43e" stroke="#5a4a2a" stroke-width="0.55" />
<circle cx="213.75" cy="78.75" r="1.50" fill="#eee544" stroke="#5a4a2a" stroke-width="0.55" />
<circle cx="240.50" cy="82.50" r="2.12" fill="#ece64f" stroke="#5a4a2a" stroke-width="0.55" />
<circle cx="271.75" cy="89.00" r="2.75" fill="#e4e96d" stroke="#5a4a2a" stroke-width="0.55" />
<circle cx="211.25" cy="93.00" r="1.50" fill="#e5ea73" stroke="#5a4a2a" stroke-width="0.55" />
<circle cx="235.25" cy="93.00" r="2.12" fill="#e5ea73" stroke="#5a4a2a" stroke-width="0.55" />
<circle cx="212.75" cy="99.25" r="1.50" fill="#e8ec7c" stroke="#5a4a2a" stroke-width="0.55" />
<circle cx="298.25" cy="99.50" r="2.88" fill="#e8ec7c" stroke="#5a4a2a" stroke-width="0.55" />
<circle cx="214.25" cy="114.00" r="1.50" fill="#fdfad0" stroke="#5a4a2a" stroke-width="0.55" />
<circle cx="223.50" cy="128.25" r="2.00" fill="#fffef5" stroke="#5a4a2a" stroke-width="0.55" />
<circle cx="238.75" cy="128.25" r="2.00" fill="#fffef5" stroke="#5a4a2a" stroke-width="0.55" />
<text x="258.25" y="40.33" font-size="6.6" text-anchor="middle" font-weight="bold">d</text>
<text x="300.00" y="44.58" font-size="6.6" text-anchor="middle" font-weight="bold">b</text>
<text x="310.75" y="44.58" font-size="6.6" text-anchor="middle" font-weight="bold">a</text>
<text x="261.25" y="61.33" font-size="6.6" text-anchor="middle" font-weight="bold">e</text>
<text x="286.25" y="65.83" font-size="6.6" text-anchor="middle" font-weight="bold">f</text>
<text x="318.75" y="60.83" font-size="6.6" text-anchor="middle" font-weight="bold">c</text>
<text x="197.70" y="175.75" font-size="6.8" text-anchor="middle">a</text>
<text x="206.30" y="175.68" font-size="6.6">Aspartate metabolism</text>
<text x="197.70" y="187.35" font-size="6.8" text-anchor="middle">b</text>
<text x="206.30" y="187.28" font-size="6.6" fill="#d23a3a" style="stroke:#d23a3a;">Urea cycle</text>
<text x="197.70" y="199.15" font-size="6.8" text-anchor="middle">c</text>
<text x="206.30" y="199.08" font-size="6.6">Alanine metabolism</text>
<text x="197.70" y="211.35" font-size="6.8" text-anchor="middle">d</text>
<text x="206.30" y="211.28" font-size="6.6">Arginine and proline metabolism</text>
<text x="197.70" y="223.95" font-size="6.8" text-anchor="middle">e</text>
<text x="206.30" y="223.88" font-size="6.6">Glutamate metabolism</text>
<text x="197.70" y="236.15" font-size="6.8" text-anchor="middle">f</text>
<text x="206.30" y="236.08" font-size="6.6">Malate-aspartate shuttle</text>
<text x="336.20" y="11.86" font-size="12.1" font-weight="bold" fill="#111" style="stroke:#111;">C</text>
<defs><marker id="ah" viewBox="0 0 10 10" refX="8.5" refY="5" markerWidth="3.9" markerHeight="3.6" orient="auto-start-reverse"><path d="M0,0.8 L10,5 L0,9.2 Z" fill="#111"/></marker></defs>
<text x="360.75" y="7.73" font-size="6.2" textLength="45.20" lengthAdjust="spacingAndGlyphs">NH3+CO2+2ATP</text>
<line x1="383.75" y1="10.00" x2="383.75" y2="34.50" stroke="#111" stroke-width="1.15" marker-end="url(#ah)"/>
<rect x="387.50" y="17.00" width="19.50" height="9.00" fill="#fff" stroke="#c8352f" stroke-width="0.75" />
<text x="397.25" y="23.62" font-size="5.9" text-anchor="middle" fill="#cf3a34" style="stroke:#cf3a34;stroke-width:0.1px">CPS1</text>
<text x="356.25" y="41.63" font-size="6.2" textLength="58.00" lengthAdjust="spacingAndGlyphs">Carbamoyl phosphate</text>
<line x1="414.60" y1="39.50" x2="462.00" y2="39.50" stroke="#111" stroke-width="1.15" marker-end="url(#ah)"/>
<rect x="429.00" y="28.30" width="16.60" height="8.50" fill="#fff" stroke="#c8352f" stroke-width="0.75" />
<text x="437.30" y="34.67" font-size="5.9" text-anchor="middle" fill="#cf3a34" style="stroke:#cf3a34;stroke-width:0.1px">OTC</text>
<text x="465.00" y="42.23" font-size="6.2" textLength="23.00" lengthAdjust="spacingAndGlyphs">Citrulline</text>
<line x1="473.75" y1="44.50" x2="473.75" y2="85.30" stroke="#111" stroke-width="1.15" marker-end="url(#ah)"/>
<text x="479.25" y="54.23" font-size="6.2" textLength="25.20" lengthAdjust="spacingAndGlyphs">Aspartate</text>
<line x1="483.75" y1="57.00" x2="475.60" y2="66.80" stroke="#111" stroke-width="1.15" marker-end="url(#ah)"/>
<rect x="463.80" y="55.00" width="8.20" height="18.80" fill="#fff" stroke="#c8352f" stroke-width="0.75" />
<text x="0" y="2.12" font-size="5.9" text-anchor="middle" fill="#cf3a34" style="stroke:#cf3a34;stroke-width:0.1px" transform="translate(467.90 64.40) rotate(-90)">ASS1</text>
<text x="460.00" y="91.83" font-size="6.2" textLength="46.30" lengthAdjust="spacingAndGlyphs">Argininosuccinate</text>
<line x1="456.50" y1="89.50" x2="426.80" y2="89.50" stroke="#111" stroke-width="1.15" marker-end="url(#ah)"/>
<rect x="435.40" y="78.30" width="15.40" height="8.50" fill="#fff" stroke="#c8352f" stroke-width="0.75" />
<text x="443.10" y="84.67" font-size="5.9" text-anchor="middle" fill="#cf3a34" style="stroke:#cf3a34;stroke-width:0.1px">ASL</text>
<line x1="447.30" y1="90.00" x2="441.20" y2="97.00" stroke="#111" stroke-width="1.15" marker-end="url(#ah)"/>
<text x="424.25" y="105.53" font-size="6.2" textLength="25.00" lengthAdjust="spacingAndGlyphs">Fumarate</text>
<text x="400.75" y="92.23" font-size="6.2" textLength="21.80" lengthAdjust="spacingAndGlyphs">Arginine</text>
<line x1="413.10" y1="85.20" x2="413.10" y2="61.00" stroke="#111" stroke-width="1.15" marker-end="url(#ah)"/>
<line x1="413.10" y1="78.80" x2="408.00" y2="72.40" stroke="#111" stroke-width="1.15" marker-end="url(#ah)"/>
<rect x="416.60" y="64.60" width="8.80" height="17.60" fill="#fff" stroke="#c8352f" stroke-width="0.75" />
<text x="0" y="2.12" font-size="5.9" text-anchor="middle" fill="#cf3a34" style="stroke:#cf3a34;stroke-width:0.1px" transform="translate(421.00 73.40) rotate(-90)">ARG</text>
<text x="390.75" y="71.73" font-size="6.2" textLength="12.50" lengthAdjust="spacingAndGlyphs">Urea</text>
<text x="399.25" y="57.73" font-size="6.2" textLength="24.00" lengthAdjust="spacingAndGlyphs">Ornithine</text>
<line x1="420.00" y1="50.00" x2="426.30" y2="42.00" stroke="#111" stroke-width="1.15" marker-end="url(#ah)"/>
<text x="336.20" y="118.16" font-size="12.1" font-weight="bold" fill="#111" style="stroke:#111;">D</text>
<text x="375.00" y="120.02" font-size="8.4" textLength="24.40" lengthAdjust="spacingAndGlyphs">H1299</text>
<rect x="379.25" y="184.05" width="5.75" height="14.70" fill="#111" />
<line x1="382.12" y1="184.05" x2="382.12" y2="182.95" stroke="#111" stroke-width="0.6" />
<line x1="380.62" y1="182.95" x2="383.62" y2="182.95" stroke="#111" stroke-width="0.6" />
<rect x="386.30" y="195.11" width="5.75" height="3.64" fill="#e8352b" stroke="#2a0806" stroke-width="0.5" />
<line x1="389.18" y1="195.11" x2="389.18" y2="193.91" stroke="#2a0806" stroke-width="0.65" />
<line x1="387.57" y1="193.91" x2="390.78" y2="193.91" stroke="#2a0806" stroke-width="0.65" />
<text x="389.18" y="194.15" font-size="6.2" text-anchor="middle">**</text>
<text x="387.60" y="206.20" font-size="6.5" text-anchor="end" transform="rotate(-45 387.60 206.20)">Citrulline</text>
<line x1="385.65" y1="198.75" x2="385.65" y2="200.80" stroke="#111" stroke-width="0.6" />
<rect x="399.25" y="184.05" width="5.75" height="14.70" fill="#111" />
<line x1="402.12" y1="184.05" x2="402.12" y2="183.10" stroke="#111" stroke-width="0.6" />
<line x1="400.62" y1="183.10" x2="403.62" y2="183.10" stroke="#111" stroke-width="0.6" />
<rect x="406.30" y="195.87" width="5.75" height="2.88" fill="#e8352b" stroke="#2a0806" stroke-width="0.5" />
<line x1="409.18" y1="195.87" x2="409.18" y2="194.67" stroke="#2a0806" stroke-width="0.65" />
<line x1="407.57" y1="194.67" x2="410.78" y2="194.67" stroke="#2a0806" stroke-width="0.65" />
<text x="409.18" y="194.90" font-size="6.2" text-anchor="middle">**</text>
<text x="407.60" y="206.20" font-size="6.5" text-anchor="end" transform="rotate(-45 407.60 206.20)">Aspartate</text>
<line x1="405.65" y1="198.75" x2="405.65" y2="200.80" stroke="#111" stroke-width="0.6" />
<rect x="419.40" y="184.05" width="5.75" height="14.70" fill="#111" />
<line x1="422.27" y1="184.05" x2="422.27" y2="183.10" stroke="#111" stroke-width="0.6" />
<line x1="420.77" y1="183.10" x2="423.77" y2="183.10" stroke="#111" stroke-width="0.6" />
<rect x="426.45" y="168.20" width="5.75" height="30.55" fill="#e8352b" stroke="#2a0806" stroke-width="0.5" />
<rect x="426.45" y="139.48" width="5.75" height="22.72" fill="#e8352b" stroke="#2a0806" stroke-width="0.5" />
<line x1="429.32" y1="142.82" x2="429.32" y2="136.14" stroke="#2a0806" stroke-width="0.65" />
<line x1="429.32" y1="139.48" x2="429.32" y2="136.14" stroke="#2a0806" stroke-width="0.65" />
<line x1="427.72" y1="136.14" x2="430.93" y2="136.14" stroke="#2a0806" stroke-width="0.65" />
<text x="429.32" y="136.37" font-size="6.2" text-anchor="middle">**</text>
<text x="427.75" y="206.20" font-size="6.5" text-anchor="end" transform="rotate(-45 427.75 206.20)">Argininosuccinate</text>
<line x1="425.80" y1="198.75" x2="425.80" y2="200.80" stroke="#111" stroke-width="0.6" />
<rect x="439.50" y="184.05" width="5.75" height="14.70" fill="#111" />
<line x1="442.38" y1="184.05" x2="442.38" y2="182.65" stroke="#111" stroke-width="0.6" />
<line x1="440.88" y1="182.65" x2="443.88" y2="182.65" stroke="#111" stroke-width="0.6" />
<rect x="446.55" y="168.20" width="5.75" height="30.55" fill="#e8352b" stroke="#2a0806" stroke-width="0.5" />
<rect x="446.55" y="148.89" width="5.75" height="13.31" fill="#e8352b" stroke="#2a0806" stroke-width="0.5" />
<line x1="449.43" y1="152.53" x2="449.43" y2="145.25" stroke="#2a0806" stroke-width="0.65" />
<line x1="449.43" y1="148.89" x2="449.43" y2="145.25" stroke="#2a0806" stroke-width="0.65" />
<line x1="447.82" y1="145.25" x2="451.03" y2="145.25" stroke="#2a0806" stroke-width="0.65" />
<text x="449.43" y="145.48" font-size="6.2" text-anchor="middle">**</text>
<text x="447.85" y="206.20" font-size="6.5" text-anchor="end" transform="rotate(-45 447.85 206.20)">Arginine</text>
<line x1="445.90" y1="198.75" x2="445.90" y2="200.80" stroke="#111" stroke-width="0.6" />
<rect x="459.80" y="184.05" width="5.75" height="14.70" fill="#111" />
<line x1="462.68" y1="184.05" x2="462.68" y2="183.10" stroke="#111" stroke-width="0.6" />
<line x1="461.18" y1="183.10" x2="464.18" y2="183.10" stroke="#111" stroke-width="0.6" />
<rect x="466.85" y="168.20" width="5.75" height="30.55" fill="#e8352b" stroke="#2a0806" stroke-width="0.5" />
<rect x="466.85" y="158.90" width="5.75" height="3.30" fill="#e8352b" stroke="#2a0806" stroke-width="0.5" />
<line x1="469.73" y1="159.81" x2="469.73" y2="157.99" stroke="#2a0806" stroke-width="0.65" />
<line x1="469.73" y1="158.90" x2="469.73" y2="157.99" stroke="#2a0806" stroke-width="0.65" />
<line x1="468.12" y1="157.99" x2="471.33" y2="157.99" stroke="#2a0806" stroke-width="0.65" />
<text x="469.73" y="158.23" font-size="6.2" text-anchor="middle">**</text>
<text x="468.15" y="206.20" font-size="6.5" text-anchor="end" transform="rotate(-45 468.15 206.20)">Ornithine</text>
<line x1="466.20" y1="198.75" x2="466.20" y2="200.80" stroke="#111" stroke-width="0.6" />
<line x1="376.10" y1="132.20" x2="376.10" y2="162.70" stroke="#111" stroke-width="0.8" />
<line x1="374.50" y1="162.50" x2="377.60" y2="162.50" stroke="#111" stroke-width="0.75" />
<line x1="376.10" y1="168.50" x2="377.60" y2="168.50" stroke="#111" stroke-width="0.75" />
<line x1="373.00" y1="132.50" x2="376.10" y2="132.50" stroke="#111" stroke-width="0.75" />
<text x="372.60" y="134.77" font-size="6.3" text-anchor="end">8</text>
<line x1="373.00" y1="144.64" x2="376.10" y2="144.64" stroke="#111" stroke-width="0.75" />
<text x="372.60" y="146.91" font-size="6.3" text-anchor="end">6</text>
<line x1="373.00" y1="156.78" x2="376.10" y2="156.78" stroke="#111" stroke-width="0.75" />
<text x="372.60" y="159.05" font-size="6.3" text-anchor="end">4</text>
<line x1="376.10" y1="168.20" x2="376.10" y2="199.10" stroke="#111" stroke-width="0.8" />
<line x1="373.00" y1="168.50" x2="376.10" y2="168.50" stroke="#111" stroke-width="0.75" />
<text x="372.60" y="171.17" font-size="6.3" text-anchor="end">2</text>
<line x1="373.00" y1="183.60" x2="376.10" y2="183.60" stroke="#111" stroke-width="0.75" />
<text x="372.60" y="185.87" font-size="6.3" text-anchor="end">1</text>
<line x1="373.00" y1="198.75" x2="376.10" y2="198.75" stroke="#111" stroke-width="0.75" />
<text x="372.60" y="201.02" font-size="6.3" text-anchor="end">0</text>
<line x1="375.70" y1="198.75" x2="475.30" y2="198.75" stroke="#111" stroke-width="0.8" />
<text x="0" y="2.27" font-size="6.3" text-anchor="middle" textLength="86.60" lengthAdjust="spacingAndGlyphs" transform="translate(359.50 163.70) rotate(-90)">Relative metabolite abundance</text>
<rect x="475.75" y="131.75" width="8.50" height="5.00" fill="#111" />
<text x="488.00" y="136.57" font-size="6.3" textLength="9.40" lengthAdjust="spacingAndGlyphs">Ctrl</text>
<rect x="475.95" y="141.95" width="8.10" height="4.60" fill="#e8352b" stroke="#2a0806" stroke-width="0.5" />
<text x="488.00" y="146.57" font-size="6.3" textLength="16.60" lengthAdjust="spacingAndGlyphs">Era-R</text>
<text x="9.60" y="258.16" font-size="12.1" font-weight="bold" fill="#111" style="stroke:#111;">E</text>
<text x="36.25" y="268.52" font-size="8.4" textLength="24.60" lengthAdjust="spacingAndGlyphs">H1299</text>
<rect x="40.00" y="330.24" width="5.80" height="13.01" fill="#111" />
<line x1="42.90" y1="330.24" x2="42.90" y2="328.07" stroke="#111" stroke-width="0.6" />
<line x1="41.40" y1="328.07" x2="44.40" y2="328.07" stroke="#111" stroke-width="0.6" />
<rect x="47.10" y="331.33" width="5.80" height="11.92" fill="#e8352b" stroke="#2a0806" stroke-width="0.5" />
<line x1="50.00" y1="333.22" x2="50.00" y2="329.43" stroke="#2a0806" stroke-width="0.65" />
<line x1="48.40" y1="329.43" x2="51.60" y2="329.43" stroke="#2a0806" stroke-width="0.65" />
<line x1="48.40" y1="333.22" x2="51.60" y2="333.22" stroke="#2a0806" stroke-width="0.65" />
<text x="50.00" y="328.13" font-size="4.8" text-anchor="middle" fill="#4a4a55" style="stroke:none">ns</text>
<text x="46.45" y="352.60" font-size="6.4" text-anchor="middle">CPS1</text>
<line x1="46.45" y1="343.25" x2="46.45" y2="345.45" stroke="#111" stroke-width="0.6" />
<rect x="60.50" y="330.11" width="5.80" height="13.14" fill="#111" />
<line x1="63.40" y1="330.11" x2="63.40" y2="328.35" stroke="#111" stroke-width="0.6" />
<line x1="61.90" y1="328.35" x2="64.90" y2="328.35" stroke="#111" stroke-width="0.6" />
<rect x="67.60" y="326.72" width="5.80" height="16.53" fill="#e8352b" stroke="#2a0806" stroke-width="0.5" />
<line x1="70.50" y1="328.48" x2="70.50" y2="324.96" stroke="#2a0806" stroke-width="0.65" />
<line x1="68.90" y1="324.96" x2="72.10" y2="324.96" stroke="#2a0806" stroke-width="0.65" />
<line x1="68.90" y1="328.48" x2="72.10" y2="328.48" stroke="#2a0806" stroke-width="0.65" />
<text x="70.50" y="323.66" font-size="4.8" text-anchor="middle" fill="#4a4a55" style="stroke:none">ns</text>
<text x="66.95" y="352.60" font-size="6.4" text-anchor="middle">OTC</text>
<line x1="66.95" y1="343.25" x2="66.95" y2="345.45" stroke="#111" stroke-width="0.6" />
<rect x="80.90" y="329.97" width="5.80" height="13.28" fill="#111" />
<line x1="83.80" y1="329.97" x2="83.80" y2="327.53" stroke="#111" stroke-width="0.6" />
<line x1="82.30" y1="327.53" x2="85.30" y2="327.53" stroke="#111" stroke-width="0.6" />
<rect x="88.00" y="304.36" width="5.80" height="38.89" fill="#e8352b" stroke="#2a0806" stroke-width="0.5" />
<line x1="90.90" y1="307.07" x2="90.90" y2="301.65" stroke="#2a0806" stroke-width="0.65" />
<line x1="89.30" y1="301.65" x2="92.50" y2="301.65" stroke="#2a0806" stroke-width="0.65" />
<line x1="89.30" y1="307.07" x2="92.50" y2="307.07" stroke="#2a0806" stroke-width="0.65" />
<text x="90.90" y="301.88" font-size="6.2" text-anchor="middle">**</text>
<text x="87.35" y="352.60" font-size="6.4" text-anchor="middle">ASS1</text>
<line x1="87.35" y1="343.25" x2="87.35" y2="345.45" stroke="#111" stroke-width="0.6" />
<rect x="101.30" y="330.11" width="5.80" height="13.14" fill="#111" />
<line x1="104.20" y1="330.11" x2="104.20" y2="329.29" stroke="#111" stroke-width="0.6" />
<line x1="102.70" y1="329.29" x2="105.70" y2="329.29" stroke="#111" stroke-width="0.6" />
<rect x="108.40" y="332.14" width="5.80" height="11.11" fill="#e8352b" stroke="#2a0806" stroke-width="0.5" />
<line x1="111.30" y1="334.04" x2="111.30" y2="330.24" stroke="#2a0806" stroke-width="0.65" />
<line x1="109.70" y1="330.24" x2="112.90" y2="330.24" stroke="#2a0806" stroke-width="0.65" />
<line x1="109.70" y1="334.04" x2="112.90" y2="334.04" stroke="#2a0806" stroke-width="0.65" />
<text x="111.30" y="328.94" font-size="4.8" text-anchor="middle" fill="#4a4a55" style="stroke:none">ns</text>
<text x="107.75" y="352.60" font-size="6.4" text-anchor="middle">ASL</text>
<line x1="107.75" y1="343.25" x2="107.75" y2="345.45" stroke="#111" stroke-width="0.6" />
<rect x="121.90" y="330.11" width="5.80" height="13.14" fill="#111" />
<line x1="124.80" y1="330.11" x2="124.80" y2="328.35" stroke="#111" stroke-width="0.6" />
<line x1="123.30" y1="328.35" x2="126.30" y2="328.35" stroke="#111" stroke-width="0.6" />
<rect x="129.00" y="328.89" width="5.80" height="14.36" fill="#e8352b" stroke="#2a0806" stroke-width="0.5" />
<line x1="131.90" y1="331.60" x2="131.90" y2="326.18" stroke="#2a0806" stroke-width="0.65" />
<line x1="130.30" y1="326.18" x2="133.50" y2="326.18" stroke="#2a0806" stroke-width="0.65" />
<line x1="130.30" y1="331.60" x2="133.50" y2="331.60" stroke="#2a0806" stroke-width="0.65" />
<text x="131.90" y="324.88" font-size="4.8" text-anchor="middle" fill="#4a4a55" style="stroke:none">ns</text>
<text x="128.35" y="352.60" font-size="6.4" text-anchor="middle">ARG1</text>
<line x1="128.35" y1="343.25" x2="128.35" y2="345.45" stroke="#111" stroke-width="0.6" />
<line x1="36.60" y1="275.20" x2="36.60" y2="343.65" stroke="#111" stroke-width="0.8" />
<line x1="36.20" y1="343.25" x2="137.50" y2="343.25" stroke="#111" stroke-width="0.8" />
<line x1="33.50" y1="343.25" x2="36.60" y2="343.25" stroke="#111" stroke-width="0.75" />
<text x="33.10" y="345.55" font-size="6.4" text-anchor="end">0</text>
<line x1="33.50" y1="329.70" x2="36.60" y2="329.70" stroke="#111" stroke-width="0.75" />
<text x="33.10" y="332.00" font-size="6.4" text-anchor="end">1</text>
<line x1="33.50" y1="316.15" x2="36.60" y2="316.15" stroke="#111" stroke-width="0.75" />
<text x="33.10" y="318.45" font-size="6.4" text-anchor="end">2</text>
<line x1="33.50" y1="302.60" x2="36.60" y2="302.60" stroke="#111" stroke-width="0.75" />
<text x="33.10" y="304.90" font-size="6.4" text-anchor="end">3</text>
<line x1="33.50" y1="289.05" x2="36.60" y2="289.05" stroke="#111" stroke-width="0.75" />
<text x="33.10" y="291.35" font-size="6.4" text-anchor="end">4</text>
<line x1="33.50" y1="275.50" x2="36.60" y2="275.50" stroke="#111" stroke-width="0.75" />
<text x="33.10" y="277.80" font-size="6.4" text-anchor="end">5</text>
<text x="0" y="2.29" font-size="6.35" text-anchor="middle" textLength="75.80" lengthAdjust="spacingAndGlyphs" transform="translate(22.80 309.18) rotate(-90)">Relative mRNA expression</text>
<rect x="130.00" y="274.50" width="8.60" height="5.00" fill="#111" />
<text x="142.20" y="279.27" font-size="6.3" textLength="9.40" lengthAdjust="spacingAndGlyphs">Ctrl</text>
<rect x="130.20" y="283.20" width="8.20" height="4.60" fill="#e8352b" stroke="#2a0806" stroke-width="0.5" />
<text x="142.20" y="287.77" font-size="6.3" textLength="16.80" lengthAdjust="spacingAndGlyphs">Era-R</text>
<text x="190.50" y="268.52" font-size="8.4" textLength="32.20" lengthAdjust="spacingAndGlyphs">HCC827</text>
<rect x="195.00" y="330.99" width="5.80" height="13.11" fill="#111" />
<line x1="197.90" y1="330.99" x2="197.90" y2="329.23" stroke="#111" stroke-width="0.6" />
<line x1="196.40" y1="329.23" x2="199.40" y2="329.23" stroke="#111" stroke-width="0.6" />
<rect x="202.10" y="327.61" width="5.80" height="16.49" fill="#e8352b" stroke="#2a0806" stroke-width="0.5" />
<line x1="205.00" y1="328.96" x2="205.00" y2="326.25" stroke="#2a0806" stroke-width="0.65" />
<line x1="203.40" y1="326.25" x2="206.60" y2="326.25" stroke="#2a0806" stroke-width="0.65" />
<line x1="203.40" y1="328.96" x2="206.60" y2="328.96" stroke="#2a0806" stroke-width="0.65" />
<text x="205.00" y="324.95" font-size="4.8" text-anchor="middle" fill="#4a4a55" style="stroke:none">ns</text>
<text x="201.45" y="353.60" font-size="6.4" text-anchor="middle">CPS1</text>
<line x1="201.45" y1="344.10" x2="201.45" y2="346.30" stroke="#111" stroke-width="0.6" />
<rect x="215.50" y="330.85" width="5.80" height="13.25" fill="#111" />
<line x1="218.40" y1="330.85" x2="218.40" y2="328.15" stroke="#111" stroke-width="0.6" />
<line x1="216.90" y1="328.15" x2="219.90" y2="328.15" stroke="#111" stroke-width="0.6" />
<rect x="222.60" y="331.93" width="5.80" height="12.17" fill="#e8352b" stroke="#2a0806" stroke-width="0.5" />
<line x1="225.50" y1="333.28" x2="225.50" y2="330.58" stroke="#2a0806" stroke-width="0.65" />
<line x1="223.90" y1="330.58" x2="227.10" y2="330.58" stroke="#2a0806" stroke-width="0.65" />
<line x1="223.90" y1="333.28" x2="227.10" y2="333.28" stroke="#2a0806" stroke-width="0.65" />
<text x="225.50" y="329.28" font-size="4.8" text-anchor="middle" fill="#4a4a55" style="stroke:none">ns</text>
<text x="221.95" y="353.60" font-size="6.4" text-anchor="middle">OTC</text>
<line x1="221.95" y1="344.10" x2="221.95" y2="346.30" stroke="#111" stroke-width="0.6" />
<rect x="235.90" y="330.99" width="5.80" height="13.11" fill="#111" />
<line x1="238.80" y1="330.99" x2="238.80" y2="330.31" stroke="#111" stroke-width="0.6" />
<line x1="237.30" y1="330.31" x2="240.30" y2="330.31" stroke="#111" stroke-width="0.6" />
<rect x="243.00" y="308.27" width="5.80" height="35.83" fill="#e8352b" stroke="#2a0806" stroke-width="0.5" />
<line x1="245.90" y1="312.06" x2="245.90" y2="304.49" stroke="#2a0806" stroke-width="0.65" />
<line x1="244.30" y1="304.49" x2="247.50" y2="304.49" stroke="#2a0806" stroke-width="0.65" />
<line x1="244.30" y1="312.06" x2="247.50" y2="312.06" stroke="#2a0806" stroke-width="0.65" />
<text x="245.90" y="304.72" font-size="6.2" text-anchor="middle">**</text>
<text x="242.35" y="353.60" font-size="6.4" text-anchor="middle">ASS1</text>
<line x1="242.35" y1="344.10" x2="242.35" y2="346.30" stroke="#111" stroke-width="0.6" />
<rect x="256.70" y="330.99" width="5.80" height="13.11" fill="#111" />
<line x1="259.60" y1="330.99" x2="259.60" y2="328.01" stroke="#111" stroke-width="0.6" />
<line x1="258.10" y1="328.01" x2="261.10" y2="328.01" stroke="#111" stroke-width="0.6" />
<rect x="263.80" y="327.88" width="5.80" height="16.22" fill="#e8352b" stroke="#2a0806" stroke-width="0.5" />
<line x1="266.70" y1="329.23" x2="266.70" y2="326.52" stroke="#2a0806" stroke-width="0.65" />
<line x1="265.10" y1="326.52" x2="268.30" y2="326.52" stroke="#2a0806" stroke-width="0.65" />
<line x1="265.10" y1="329.23" x2="268.30" y2="329.23" stroke="#2a0806" stroke-width="0.65" />
<text x="266.70" y="325.22" font-size="4.8" text-anchor="middle" fill="#4a4a55" style="stroke:none">ns</text>
<text x="263.15" y="353.60" font-size="6.4" text-anchor="middle">ASL</text>
<line x1="263.15" y1="344.10" x2="263.15" y2="346.30" stroke="#111" stroke-width="0.6" />
<rect x="277.10" y="330.99" width="5.80" height="13.11" fill="#111" />
<line x1="280.00" y1="330.99" x2="280.00" y2="329.36" stroke="#111" stroke-width="0.6" />
<line x1="278.50" y1="329.36" x2="281.50" y2="329.36" stroke="#111" stroke-width="0.6" />
<rect x="284.20" y="333.55" width="5.80" height="10.55" fill="#e8352b" stroke="#2a0806" stroke-width="0.5" />
<line x1="287.10" y1="335.45" x2="287.10" y2="331.66" stroke="#2a0806" stroke-width="0.65" />
<line x1="285.50" y1="331.66" x2="288.70" y2="331.66" stroke="#2a0806" stroke-width="0.65" />
<line x1="285.50" y1="335.45" x2="288.70" y2="335.45" stroke="#2a0806" stroke-width="0.65" />
<text x="287.10" y="330.36" font-size="4.8" text-anchor="middle" fill="#4a4a55" style="stroke:none">ns</text>
<text x="283.55" y="353.60" font-size="6.4" text-anchor="middle">ARG1</text>
<line x1="283.55" y1="344.10" x2="283.55" y2="346.30" stroke="#111" stroke-width="0.6" />
<line x1="191.60" y1="276.20" x2="191.60" y2="344.50" stroke="#111" stroke-width="0.8" />
<line x1="191.20" y1="344.10" x2="293.00" y2="344.10" stroke="#111" stroke-width="0.8" />
<line x1="188.50" y1="344.10" x2="191.60" y2="344.10" stroke="#111" stroke-width="0.75" />
<text x="188.10" y="346.40" font-size="6.4" text-anchor="end">0</text>
<line x1="188.50" y1="330.58" x2="191.60" y2="330.58" stroke="#111" stroke-width="0.75" />
<text x="188.10" y="332.88" font-size="6.4" text-anchor="end">1</text>
<line x1="188.50" y1="317.06" x2="191.60" y2="317.06" stroke="#111" stroke-width="0.75" />
<text x="188.10" y="319.36" font-size="6.4" text-anchor="end">2</text>
<line x1="188.50" y1="303.54" x2="191.60" y2="303.54" stroke="#111" stroke-width="0.75" />
<text x="188.10" y="305.84" font-size="6.4" text-anchor="end">3</text>
<line x1="188.50" y1="290.02" x2="191.60" y2="290.02" stroke="#111" stroke-width="0.75" />
<text x="188.10" y="292.32" font-size="6.4" text-anchor="end">4</text>
<line x1="188.50" y1="276.50" x2="191.60" y2="276.50" stroke="#111" stroke-width="0.75" />
<text x="188.10" y="278.80" font-size="6.4" text-anchor="end">5</text>
<text x="0" y="2.29" font-size="6.35" text-anchor="middle" textLength="75.80" lengthAdjust="spacingAndGlyphs" transform="translate(177.05 310.10) rotate(-90)">Relative mRNA expression</text>
<rect x="285.40" y="275.75" width="8.60" height="5.00" fill="#111" />
<text x="297.60" y="280.52" font-size="6.3" textLength="9.40" lengthAdjust="spacingAndGlyphs">Ctrl</text>
<rect x="285.60" y="284.45" width="8.20" height="4.60" fill="#e8352b" stroke="#2a0806" stroke-width="0.5" />
<text x="297.60" y="289.02" font-size="6.3" textLength="16.80" lengthAdjust="spacingAndGlyphs">Era-R</text>
<text x="322.60" y="258.56" font-size="12.1" font-weight="bold" fill="#111" style="stroke:#111;">F</text>
<defs><filter id="blur1" x="-20%" y="-60%" width="140%" height="220%"><feGaussianBlur stdDeviation="1.3 0.9"/></filter><filter id="blur2" x="-20%" y="-60%" width="140%" height="220%"><feGaussianBlur stdDeviation="1.2 0.8"/></filter><linearGradient id="blotbg" x1="0" y1="0" x2="1" y2="0"><stop offset="0" stop-color="#cfcfcf"/><stop offset="0.5" stop-color="#dedede"/><stop offset="1" stop-color="#d4d4d4"/></linearGradient><filter id="halo" x="-30%" y="-100%" width="160%" height="300%"><feGaussianBlur stdDeviation="2.5 2"/></filter></defs>
<text x="335.75" y="268.52" font-size="8.4" textLength="25.40" lengthAdjust="spacingAndGlyphs">H1299</text>
<text x="346.80" y="298.20" font-size="8.8" transform="rotate(-37 346.80 298.20)">Ctrl</text>
<text x="372.80" y="298.80" font-size="8.8" transform="rotate(-37 372.80 298.80)">Era-R</text>
<clipPath id="clipH1299a"><rect x="338.00" y="300.00" width="50.75" height="22.50"/></clipPath>
<rect x="338.00" y="300.00" width="50.75" height="22.50" fill="url(#blotbg)" />
<g clip-path="url(#clipH1299a)">
<rect x="343.40" y="310.15" width="16.00" height="3.30" rx="1.65" fill="#888" opacity="0.55" filter="url(#halo)"/>
<rect x="343.40" y="310.15" width="16.00" height="3.30" rx="1.65" fill="#050505" filter="url(#blur2)"/>
<rect x="365.60" y="308.55" width="19.60" height="5.70" rx="2.85" fill="#888" opacity="0.55" filter="url(#halo)"/>
<rect x="365.60" y="308.55" width="19.60" height="5.70" rx="2.85" fill="#050505" filter="url(#blur1)"/>
</g>
<rect x="338.00" y="300.00" width="50.75" height="22.50" fill="none" stroke="#111" stroke-width="0.8" />
<text x="390.35" y="314.54" font-size="8.3" textLength="21.30" lengthAdjust="spacingAndGlyphs">ASS1</text>
<text x="349.50" y="328.49" font-size="4.7" text-anchor="middle" font-weight="bold" fill="#222" style="stroke:#222;stroke-width:0.12px;" textLength="10.60" lengthAdjust="spacingAndGlyphs">1.00</text>
<text x="375.50" y="328.49" font-size="4.7" text-anchor="middle" font-weight="bold" fill="#222" style="stroke:#222;stroke-width:0.12px;" textLength="10.60" lengthAdjust="spacingAndGlyphs">2.31</text>
<clipPath id="clipH1299b"><rect x="338.00" y="331.30" width="50.75" height="21.20"/></clipPath>
<rect x="338.00" y="331.30" width="50.75" height="21.20" fill="url(#blotbg)" />
<g clip-path="url(#clipH1299b)">
<rect x="341.40" y="337.90" width="21.80" height="7.20" rx="3.60" fill="#888" opacity="0.55" filter="url(#halo)"/>
<rect x="341.40" y="337.90" width="21.80" height="7.20" rx="3.60" fill="#050505" filter="url(#blur1)"/>
<rect x="365.00" y="338.10" width="22.00" height="7.20" rx="3.60" fill="#888" opacity="0.55" filter="url(#halo)"/>
<rect x="365.00" y="338.10" width="22.00" height="7.20" rx="3.60" fill="#050505" filter="url(#blur1)"/>
</g>
<rect x="338.00" y="331.30" width="50.75" height="21.20" fill="none" stroke="#111" stroke-width="0.8" />
<text x="390.35" y="345.19" font-size="8.3" textLength="27.00" lengthAdjust="spacingAndGlyphs">β-Actin</text>
<text x="426.75" y="268.52" font-size="8.4" textLength="32.00" lengthAdjust="spacingAndGlyphs">HCC827</text>
<text x="436.40" y="298.20" font-size="8.8" transform="rotate(-37 436.40 298.20)">Ctrl</text>
<text x="462.00" y="298.80" font-size="8.8" transform="rotate(-37 462.00 298.80)">Era-R</text>
<clipPath id="clipHCC827a"><rect x="426.25" y="300.00" width="50.75" height="22.50"/></clipPath>
<rect x="426.25" y="300.00" width="50.75" height="22.50" fill="url(#blotbg)" />
<g clip-path="url(#clipHCC827a)">
<rect x="432.00" y="309.20" width="15.00" height="3.20" rx="1.60" fill="#888" opacity="0.55" filter="url(#halo)"/>
<rect x="432.00" y="309.20" width="15.00" height="3.20" rx="1.60" fill="#050505" filter="url(#blur2)"/>
<rect x="454.00" y="307.40" width="19.00" height="5.40" rx="2.70" fill="#888" opacity="0.55" filter="url(#halo)"/>
<rect x="454.00" y="307.40" width="19.00" height="5.40" rx="2.70" fill="#050505" filter="url(#blur1)"/>
</g>
<rect x="426.25" y="300.00" width="50.75" height="22.50" fill="none" stroke="#111" stroke-width="0.8" />
<text x="478.60" y="314.54" font-size="8.3" textLength="21.30" lengthAdjust="spacingAndGlyphs">ASS1</text>
<text x="439.30" y="328.49" font-size="4.7" text-anchor="middle" font-weight="bold" fill="#222" style="stroke:#222;stroke-width:0.12px;" textLength="10.60" lengthAdjust="spacingAndGlyphs">1.00</text>
<text x="463.80" y="328.49" font-size="4.7" text-anchor="middle" font-weight="bold" fill="#222" style="stroke:#222;stroke-width:0.12px;" textLength="10.60" lengthAdjust="spacingAndGlyphs">2.27</text>
<clipPath id="clipHCC827b"><rect x="426.25" y="331.30" width="50.75" height="21.20"/></clipPath>
<rect x="426.25" y="331.30" width="50.75" height="21.20" fill="url(#blotbg)" />
<g clip-path="url(#clipHCC827b)">
<rect x="429.60" y="337.70" width="20.40" height="7.20" rx="3.60" fill="#888" opacity="0.55" filter="url(#halo)"/>
<rect x="429.60" y="337.70" width="20.40" height="7.20" rx="3.60" fill="#050505" filter="url(#blur1)"/>
<rect x="452.20" y="337.90" width="22.00" height="7.00" rx="3.50" fill="#888" opacity="0.55" filter="url(#halo)"/>
<rect x="452.20" y="337.90" width="22.00" height="7.00" rx="3.50" fill="#050505" filter="url(#blur1)"/>
</g>
<rect x="426.25" y="331.30" width="50.75" height="21.20" fill="none" stroke="#111" stroke-width="0.8" />
<text x="478.60" y="345.19" font-size="8.3" textLength="27.00" lengthAdjust="spacingAndGlyphs">β-Actin</text>
<text x="9.00" y="379.36" font-size="12.1" font-weight="bold" fill="#111" style="stroke:#111;">G</text>
<path d="M40.50,391.00 C41.25,390.50 43.42,389.08 45.00,388.00 C46.58,386.92 48.33,385.62 50.00,384.50 C51.67,383.38 53.33,382.08 55.00,381.25 C56.67,380.42 58.42,379.75 60.00,379.50 C61.58,379.25 62.96,379.46 64.50,379.75 C66.04,380.04 67.62,381.29 69.25,381.25 C70.88,381.21 72.46,380.08 74.25,379.50 C76.04,378.92 78.00,377.92 80.00,377.75 C82.00,377.58 84.17,377.96 86.25,378.50 C88.33,379.04 90.42,380.00 92.50,381.00 C94.58,382.00 96.67,383.33 98.75,384.50 C100.83,385.67 102.92,386.92 105.00,388.00 C107.08,389.08 109.17,390.17 111.25,391.00 C113.33,391.83 115.62,392.54 117.50,393.00 C119.38,393.46 121.67,393.62 122.50,393.75 L122.50,394.25 L40.50,394.25 Z" fill="#eabc38" stroke="#c99a1a" stroke-width="0.4" />
<path d="M128.00,399.50 C128.75,399.50 131.00,399.25 132.50,399.50 C134.00,399.75 135.54,400.08 137.00,401.00 C138.46,401.92 140.08,403.50 141.25,405.00 C142.42,406.50 143.46,408.12 144.00,410.00 C144.54,411.88 144.54,413.96 144.50,416.25 C144.46,418.54 144.08,421.04 143.75,423.75 C143.42,426.46 143.00,429.58 142.50,432.50 C142.00,435.42 141.38,438.33 140.75,441.25 C140.12,444.17 139.50,447.08 138.75,450.00 C138.00,452.92 137.08,455.83 136.25,458.75 C135.42,461.67 134.58,464.79 133.75,467.50 C132.92,470.21 132.00,472.92 131.25,475.00 C130.50,477.08 129.75,478.88 129.25,480.00 C128.75,481.12 128.42,481.46 128.25,481.75 L128.00,481.75 Z" fill="#eabc38" stroke="#c99a1a" stroke-width="0.4" />
<rect x="36.25" y="395.00" width="90.00" height="90.50" fill="#fff" stroke="#c8c8c8" stroke-width="0.6" />
<circle cx="42.00" cy="429.25" r="1.25" fill="#2bb9b9" stroke="#1f9c9c" stroke-width="0.3" />
<circle cx="41.25" cy="463.75" r="1.25" fill="#2bb9b9" stroke="#1f9c9c" stroke-width="0.3" />
<circle cx="41.25" cy="470.00" r="1.25" fill="#2bb9b9" stroke="#1f9c9c" stroke-width="0.3" />
<circle cx="46.25" cy="460.00" r="1.25" fill="#2bb9b9" stroke="#1f9c9c" stroke-width="0.3" />
<circle cx="45.75" cy="420.00" r="1.25" fill="#2bb9b9" stroke="#1f9c9c" stroke-width="0.3" />
<circle cx="49.25" cy="406.75" r="1.25" fill="#2bb9b9" stroke="#1f9c9c" stroke-width="0.3" />
<circle cx="48.00" cy="431.25" r="1.25" fill="#2bb9b9" stroke="#1f9c9c" stroke-width="0.3" />
<circle cx="51.25" cy="445.75" r="1.25" fill="#2bb9b9" stroke="#1f9c9c" stroke-width="0.3" />
<circle cx="53.75" cy="446.75" r="1.25" fill="#2bb9b9" stroke="#1f9c9c" stroke-width="0.3" />
<circle cx="53.25" cy="469.25" r="1.25" fill="#2bb9b9" stroke="#1f9c9c" stroke-width="0.3" />
<circle cx="53.75" cy="481.25" r="1.25" fill="#2bb9b9" stroke="#1f9c9c" stroke-width="0.3" />
<circle cx="51.75" cy="425.50" r="1.25" fill="#2bb9b9" stroke="#1f9c9c" stroke-width="0.3" />
<circle cx="53.25" cy="415.75" r="1.25" fill="#2bb9b9" stroke="#1f9c9c" stroke-width="0.3" />
<circle cx="55.50" cy="450.00" r="1.25" fill="#2bb9b9" stroke="#1f9c9c" stroke-width="0.3" />
<circle cx="57.50" cy="457.50" r="1.25" fill="#2bb9b9" stroke="#1f9c9c" stroke-width="0.3" />
<circle cx="55.50" cy="405.00" r="1.25" fill="#2bb9b9" stroke="#1f9c9c" stroke-width="0.3" />
<circle cx="59.25" cy="408.00" r="1.25" fill="#2bb9b9" stroke="#1f9c9c" stroke-width="0.3" />
<circle cx="58.25" cy="415.00" r="1.25" fill="#2bb9b9" stroke="#1f9c9c" stroke-width="0.3" />
<circle cx="60.75" cy="417.50" r="1.25" fill="#2bb9b9" stroke="#1f9c9c" stroke-width="0.3" />
<circle cx="59.25" cy="424.50" r="1.25" fill="#2bb9b9" stroke="#1f9c9c" stroke-width="0.3" />
<circle cx="62.50" cy="426.25" r="1.25" fill="#2bb9b9" stroke="#1f9c9c" stroke-width="0.3" />
<circle cx="61.25" cy="433.75" r="1.25" fill="#2bb9b9" stroke="#1f9c9c" stroke-width="0.3" />
<circle cx="59.25" cy="437.50" r="1.25" fill="#2bb9b9" stroke="#1f9c9c" stroke-width="0.3" />
<circle cx="60.75" cy="441.25" r="1.25" fill="#2bb9b9" stroke="#1f9c9c" stroke-width="0.3" />
<circle cx="62.50" cy="442.50" r="1.25" fill="#2bb9b9" stroke="#1f9c9c" stroke-width="0.3" />
<circle cx="60.00" cy="445.00" r="1.25" fill="#2bb9b9" stroke="#1f9c9c" stroke-width="0.3" />
<circle cx="63.00" cy="447.50" r="1.25" fill="#2bb9b9" stroke="#1f9c9c" stroke-width="0.3" />
<circle cx="59.25" cy="463.75" r="1.25" fill="#2bb9b9" stroke="#1f9c9c" stroke-width="0.3" />
<circle cx="60.50" cy="465.00" r="1.25" fill="#2bb9b9" stroke="#1f9c9c" stroke-width="0.3" />
<circle cx="62.00" cy="476.25" r="1.25" fill="#2bb9b9" stroke="#1f9c9c" stroke-width="0.3" />
<circle cx="64.50" cy="448.25" r="1.25" fill="#2bb9b9" stroke="#1f9c9c" stroke-width="0.3" />
<circle cx="65.50" cy="404.50" r="1.25" fill="#2bb9b9" stroke="#1f9c9c" stroke-width="0.3" />
<circle cx="67.50" cy="407.50" r="1.25" fill="#2bb9b9" stroke="#1f9c9c" stroke-width="0.3" />
<circle cx="65.50" cy="421.25" r="1.25" fill="#2bb9b9" stroke="#1f9c9c" stroke-width="0.3" />
<circle cx="68.75" cy="422.50" r="1.25" fill="#2bb9b9" stroke="#1f9c9c" stroke-width="0.3" />
<circle cx="71.25" cy="411.25" r="1.25" fill="#2bb9b9" stroke="#1f9c9c" stroke-width="0.3" />
<circle cx="72.50" cy="412.50" r="1.25" fill="#2bb9b9" stroke="#1f9c9c" stroke-width="0.3" />
<circle cx="74.25" cy="410.00" r="1.25" fill="#2bb9b9" stroke="#1f9c9c" stroke-width="0.3" />
<circle cx="75.00" cy="406.25" r="1.25" fill="#2bb9b9" stroke="#1f9c9c" stroke-width="0.3" />
<circle cx="76.75" cy="405.00" r="1.25" fill="#2bb9b9" stroke="#1f9c9c" stroke-width="0.3" />
<circle cx="75.75" cy="412.50" r="1.25" fill="#2bb9b9" stroke="#1f9c9c" stroke-width="0.3" />
<circle cx="77.50" cy="414.50" r="1.25" fill="#2bb9b9" stroke="#1f9c9c" stroke-width="0.3" />
<circle cx="73.00" cy="422.50" r="1.25" fill="#2bb9b9" stroke="#1f9c9c" stroke-width="0.3" />
<circle cx="75.00" cy="421.25" r="1.25" fill="#2bb9b9" stroke="#1f9c9c" stroke-width="0.3" />
<circle cx="70.75" cy="425.00" r="1.25" fill="#2bb9b9" stroke="#1f9c9c" stroke-width="0.3" />
<circle cx="68.75" cy="436.25" r="1.25" fill="#2bb9b9" stroke="#1f9c9c" stroke-width="0.3" />
<circle cx="73.75" cy="437.50" r="1.25" fill="#2bb9b9" stroke="#1f9c9c" stroke-width="0.3" />
<circle cx="70.00" cy="442.50" r="1.25" fill="#2bb9b9" stroke="#1f9c9c" stroke-width="0.3" />
<circle cx="73.25" cy="440.75" r="1.25" fill="#2bb9b9" stroke="#1f9c9c" stroke-width="0.3" />
<circle cx="77.00" cy="445.00" r="1.25" fill="#2bb9b9" stroke="#1f9c9c" stroke-width="0.3" />
<circle cx="74.25" cy="468.75" r="1.25" fill="#2bb9b9" stroke="#1f9c9c" stroke-width="0.3" />
<circle cx="79.50" cy="417.50" r="1.25" fill="#2bb9b9" stroke="#1f9c9c" stroke-width="0.3" />
<circle cx="80.50" cy="410.00" r="1.25" fill="#2bb9b9" stroke="#1f9c9c" stroke-width="0.3" />
<circle cx="81.25" cy="407.50" r="1.25" fill="#2bb9b9" stroke="#1f9c9c" stroke-width="0.3" />
<circle cx="83.75" cy="408.75" r="1.25" fill="#2bb9b9" stroke="#1f9c9c" stroke-width="0.3" />
<circle cx="85.00" cy="407.50" r="1.25" fill="#2bb9b9" stroke="#1f9c9c" stroke-width="0.3" />
<circle cx="82.50" cy="413.75" r="1.25" fill="#2bb9b9" stroke="#1f9c9c" stroke-width="0.3" />
<circle cx="80.00" cy="420.00" r="1.25" fill="#2bb9b9" stroke="#1f9c9c" stroke-width="0.3" />
<circle cx="82.00" cy="421.25" r="1.25" fill="#2bb9b9" stroke="#1f9c9c" stroke-width="0.3" />
<circle cx="80.50" cy="426.25" r="1.25" fill="#2bb9b9" stroke="#1f9c9c" stroke-width="0.3" />
<circle cx="82.50" cy="430.00" r="1.25" fill="#2bb9b9" stroke="#1f9c9c" stroke-width="0.3" />
<circle cx="78.75" cy="431.25" r="1.25" fill="#2bb9b9" stroke="#1f9c9c" stroke-width="0.3" />
<circle cx="80.50" cy="436.25" r="1.25" fill="#2bb9b9" stroke="#1f9c9c" stroke-width="0.3" />
<circle cx="79.50" cy="438.75" r="1.25" fill="#2bb9b9" stroke="#1f9c9c" stroke-width="0.3" />
<circle cx="82.00" cy="437.50" r="1.25" fill="#2bb9b9" stroke="#1f9c9c" stroke-width="0.3" />
<circle cx="80.50" cy="441.25" r="1.25" fill="#2bb9b9" stroke="#1f9c9c" stroke-width="0.3" />
<circle cx="83.00" cy="442.50" r="1.25" fill="#2bb9b9" stroke="#1f9c9c" stroke-width="0.3" />
<circle cx="86.25" cy="450.75" r="1.25" fill="#2bb9b9" stroke="#1f9c9c" stroke-width="0.3" />
<circle cx="85.00" cy="451.25" r="1.25" fill="#2bb9b9" stroke="#1f9c9c" stroke-width="0.3" />
<circle cx="88.00" cy="402.50" r="1.25" fill="#2bb9b9" stroke="#1f9c9c" stroke-width="0.3" />
<circle cx="89.50" cy="407.50" r="1.25" fill="#2bb9b9" stroke="#1f9c9c" stroke-width="0.3" />
<circle cx="91.25" cy="399.50" r="1.25" fill="#2bb9b9" stroke="#1f9c9c" stroke-width="0.3" />
<circle cx="93.00" cy="407.50" r="1.25" fill="#2bb9b9" stroke="#1f9c9c" stroke-width="0.3" />
<circle cx="90.00" cy="412.50" r="1.25" fill="#2bb9b9" stroke="#1f9c9c" stroke-width="0.3" />
<circle cx="87.00" cy="416.25" r="1.25" fill="#2bb9b9" stroke="#1f9c9c" stroke-width="0.3" />
<circle cx="88.00" cy="418.75" r="1.25" fill="#2bb9b9" stroke="#1f9c9c" stroke-width="0.3" />
<circle cx="86.25" cy="427.50" r="1.25" fill="#2bb9b9" stroke="#1f9c9c" stroke-width="0.3" />
<circle cx="90.00" cy="426.25" r="1.25" fill="#2bb9b9" stroke="#1f9c9c" stroke-width="0.3" />
<circle cx="93.00" cy="427.50" r="1.25" fill="#2bb9b9" stroke="#1f9c9c" stroke-width="0.3" />
<circle cx="89.50" cy="435.00" r="1.25" fill="#2bb9b9" stroke="#1f9c9c" stroke-width="0.3" />
<circle cx="92.00" cy="436.25" r="1.25" fill="#2bb9b9" stroke="#1f9c9c" stroke-width="0.3" />
<circle cx="93.75" cy="435.50" r="1.25" fill="#2bb9b9" stroke="#1f9c9c" stroke-width="0.3" />
<circle cx="90.00" cy="437.50" r="1.25" fill="#2bb9b9" stroke="#1f9c9c" stroke-width="0.3" />
<circle cx="94.50" cy="438.75" r="1.25" fill="#2bb9b9" stroke="#1f9c9c" stroke-width="0.3" />
<circle cx="96.25" cy="441.25" r="1.25" fill="#2bb9b9" stroke="#1f9c9c" stroke-width="0.3" />
<circle cx="91.25" cy="461.25" r="1.25" fill="#2bb9b9" stroke="#1f9c9c" stroke-width="0.3" />
<circle cx="101.25" cy="407.50" r="1.25" fill="#2bb9b9" stroke="#1f9c9c" stroke-width="0.3" />
<circle cx="102.50" cy="407.00" r="1.25" fill="#2bb9b9" stroke="#1f9c9c" stroke-width="0.3" />
<circle cx="97.00" cy="421.25" r="1.25" fill="#2bb9b9" stroke="#1f9c9c" stroke-width="0.3" />
<circle cx="101.25" cy="420.00" r="1.25" fill="#2bb9b9" stroke="#1f9c9c" stroke-width="0.3" />
<circle cx="104.50" cy="417.50" r="1.25" fill="#2bb9b9" stroke="#1f9c9c" stroke-width="0.3" />
<circle cx="98.75" cy="426.25" r="1.25" fill="#2bb9b9" stroke="#1f9c9c" stroke-width="0.3" />
<circle cx="102.50" cy="431.25" r="1.25" fill="#2bb9b9" stroke="#1f9c9c" stroke-width="0.3" />
<circle cx="103.25" cy="446.25" r="1.25" fill="#2bb9b9" stroke="#1f9c9c" stroke-width="0.3" />
<circle cx="105.50" cy="445.75" r="1.25" fill="#2bb9b9" stroke="#1f9c9c" stroke-width="0.3" />
<circle cx="103.25" cy="470.00" r="1.25" fill="#2bb9b9" stroke="#1f9c9c" stroke-width="0.3" />
<circle cx="103.75" cy="478.25" r="1.25" fill="#2bb9b9" stroke="#1f9c9c" stroke-width="0.3" />
<circle cx="112.00" cy="415.75" r="1.25" fill="#2bb9b9" stroke="#1f9c9c" stroke-width="0.3" />
<circle cx="122.50" cy="407.50" r="1.25" fill="#2bb9b9" stroke="#1f9c9c" stroke-width="0.3" />
<circle cx="73.25" cy="407.00" r="1.25" fill="#2bb9b9" stroke="#1f9c9c" stroke-width="0.3" />
<circle cx="74.50" cy="411.25" r="1.25" fill="#2bb9b9" stroke="#1f9c9c" stroke-width="0.3" />
<circle cx="77.25" cy="412.25" r="1.25" fill="#2bb9b9" stroke="#1f9c9c" stroke-width="0.3" />
<circle cx="80.50" cy="410.25" r="1.25" fill="#2bb9b9" stroke="#1f9c9c" stroke-width="0.3" />
<circle cx="82.50" cy="409.00" r="1.25" fill="#2bb9b9" stroke="#1f9c9c" stroke-width="0.3" />
<circle cx="85.00" cy="405.50" r="1.25" fill="#2bb9b9" stroke="#1f9c9c" stroke-width="0.3" />
<circle cx="87.00" cy="407.25" r="1.25" fill="#2bb9b9" stroke="#1f9c9c" stroke-width="0.3" />
<circle cx="88.75" cy="408.50" r="1.25" fill="#2bb9b9" stroke="#1f9c9c" stroke-width="0.3" />
<circle cx="92.00" cy="407.75" r="1.25" fill="#2bb9b9" stroke="#1f9c9c" stroke-width="0.3" />
<circle cx="70.75" cy="411.50" r="1.25" fill="#2bb9b9" stroke="#1f9c9c" stroke-width="0.3" />
<circle cx="57.00" cy="408.75" r="1.25" fill="#2bb9b9" stroke="#1f9c9c" stroke-width="0.3" />
<circle cx="59.25" cy="409.50" r="1.25" fill="#2bb9b9" stroke="#1f9c9c" stroke-width="0.3" />
<circle cx="61.25" cy="412.50" r="1.25" fill="#2bb9b9" stroke="#1f9c9c" stroke-width="0.3" />
<circle cx="63.00" cy="417.00" r="1.25" fill="#2bb9b9" stroke="#1f9c9c" stroke-width="0.3" />
<circle cx="58.00" cy="415.00" r="1.25" fill="#2bb9b9" stroke="#1f9c9c" stroke-width="0.3" />
<circle cx="78.00" cy="418.75" r="1.25" fill="#2bb9b9" stroke="#1f9c9c" stroke-width="0.3" />
<circle cx="80.50" cy="419.25" r="1.25" fill="#2bb9b9" stroke="#1f9c9c" stroke-width="0.3" />
<circle cx="76.25" cy="422.00" r="1.25" fill="#2bb9b9" stroke="#1f9c9c" stroke-width="0.3" />
<circle cx="82.25" cy="420.75" r="1.25" fill="#2bb9b9" stroke="#1f9c9c" stroke-width="0.3" />
<circle cx="86.25" cy="418.00" r="1.25" fill="#2bb9b9" stroke="#1f9c9c" stroke-width="0.3" />
<circle cx="87.75" cy="417.00" r="1.25" fill="#2bb9b9" stroke="#1f9c9c" stroke-width="0.3" />
<circle cx="52.75" cy="420.50" r="1.25" fill="#2bb9b9" stroke="#1f9c9c" stroke-width="0.3" />
<circle cx="51.25" cy="418.75" r="1.25" fill="#2bb9b9" stroke="#1f9c9c" stroke-width="0.3" />
<circle cx="48.25" cy="435.75" r="1.25" fill="#2bb9b9" stroke="#1f9c9c" stroke-width="0.3" />
<circle cx="50.25" cy="447.00" r="1.25" fill="#2bb9b9" stroke="#1f9c9c" stroke-width="0.3" />
<circle cx="54.50" cy="449.25" r="1.25" fill="#2bb9b9" stroke="#1f9c9c" stroke-width="0.3" />
<circle cx="60.50" cy="440.50" r="1.25" fill="#2bb9b9" stroke="#1f9c9c" stroke-width="0.3" />
<circle cx="62.00" cy="443.50" r="1.25" fill="#2bb9b9" stroke="#1f9c9c" stroke-width="0.3" />
<circle cx="58.75" cy="442.00" r="1.25" fill="#2bb9b9" stroke="#1f9c9c" stroke-width="0.3" />
<circle cx="70.50" cy="440.50" r="1.25" fill="#2bb9b9" stroke="#1f9c9c" stroke-width="0.3" />
<circle cx="73.50" cy="442.00" r="1.25" fill="#2bb9b9" stroke="#1f9c9c" stroke-width="0.3" />
<circle cx="80.50" cy="437.00" r="1.25" fill="#2bb9b9" stroke="#1f9c9c" stroke-width="0.3" />
<circle cx="82.00" cy="438.50" r="1.25" fill="#2bb9b9" stroke="#1f9c9c" stroke-width="0.3" />
<circle cx="89.50" cy="435.50" r="1.25" fill="#2bb9b9" stroke="#1f9c9c" stroke-width="0.3" />
<circle cx="93.50" cy="436.25" r="1.25" fill="#2bb9b9" stroke="#1f9c9c" stroke-width="0.3" />
<circle cx="95.00" cy="440.00" r="1.25" fill="#2bb9b9" stroke="#1f9c9c" stroke-width="0.3" />
<path d="M40.50,430.75 L57.50,430.00 L75.00,426.25 L92.50,420.00 L107.50,413.75 L122.50,408.75 L122.50,428.75 L107.50,428.00 L92.50,429.25 L75.00,433.75 L57.50,438.25 L40.50,443.00Z" fill="#ddd8ee" opacity="0.6"/>
<line x1="40.50" y1="436.40" x2="122.50" y2="418.70" stroke="#7d63ad" stroke-width="0.9" />
<text x="34.80" y="415.80" font-size="3.6" text-anchor="end" font-weight="bold" fill="#333" style="stroke:#333;stroke-width:0.12px;">14</text>
<text x="34.80" y="436.30" font-size="3.6" text-anchor="end" font-weight="bold" fill="#333" style="stroke:#333;stroke-width:0.12px;">12</text>
<text x="34.80" y="456.80" font-size="3.6" text-anchor="end" font-weight="bold" fill="#333" style="stroke:#333;stroke-width:0.12px;">10</text>
<text x="34.80" y="477.55" font-size="3.6" text-anchor="end" font-weight="bold" fill="#333" style="stroke:#333;stroke-width:0.12px;">8</text>
<text x="55.50" y="490.20" font-size="3.6" text-anchor="middle" font-weight="bold" fill="#333" style="stroke:#333;stroke-width:0.12px;">3</text>
<text x="81.25" y="490.20" font-size="3.6" text-anchor="middle" font-weight="bold" fill="#333" style="stroke:#333;stroke-width:0.12px;">4</text>
<text x="107.00" y="490.20" font-size="3.6" text-anchor="middle" font-weight="bold" fill="#333" style="stroke:#333;stroke-width:0.12px;">5</text>
<text x="81.25" y="498.96" font-size="6.0" text-anchor="middle" textLength="71.00" lengthAdjust="spacingAndGlyphs">ASS1 expression (TPM+1)</text>
<text x="0" y="2.16" font-size="6.0" text-anchor="middle" textLength="66.50" lengthAdjust="spacingAndGlyphs" transform="translate(24.50 441.20) rotate(-90)">Erastin resistance (AUC)</text>
<text x="131" y="382.7" font-size="6.8" style="stroke-width:0.1px"><tspan font-style="italic">R</tspan> = 0.2</text>
<text x="131" y="391.6" font-size="6.8" style="stroke-width:0.1px"><tspan font-style="italic">P</tspan> = 0.024</text>
<text x="184.60" y="379.36" font-size="12.1" font-weight="bold" fill="#111" style="stroke:#111;">H</text>
<text x="205.75" y="390.52" font-size="8.4" textLength="50.00" lengthAdjust="spacingAndGlyphs">H1299/Era-R</text>
<path d="M207.40,419.94 L208.63,420.15 L209.86,420.38 L211.09,420.63 L212.32,420.91 L213.55,421.22 L214.78,421.56 L216.01,421.94 L217.24,422.35 L218.47,422.80 L219.70,423.29 L220.93,423.83 L222.16,424.42 L223.39,425.06 L224.62,425.75 L225.85,426.50 L227.08,427.31 L228.31,428.18 L229.54,429.11 L230.77,430.11 L232.00,431.16 L233.23,432.29 L234.46,433.47 L235.69,434.71 L236.92,436.00 L238.15,437.35 L239.38,438.73 L240.61,440.16 L241.84,441.62 L243.07,443.10 L244.30,444.60 L245.53,446.10 L246.76,447.60 L247.99,449.08 L249.22,450.55 L250.45,451.98 L251.68,453.38 L252.91,454.74 L254.14,456.05 L255.37,457.30 L256.60,458.50 L257.83,459.63 L259.06,460.71 L260.29,461.72 L261.52,462.67 L262.75,463.56 L263.98,464.38 L265.21,465.15 L266.44,465.85 L267.67,466.51 L268.90,467.11 L270.13,467.66 L271.36,468.16 L272.59,468.62 L273.82,469.04 L275.05,469.43 L276.28,469.78 L277.51,470.09 L278.74,470.38 L279.97,470.64 L281.20,470.87 L282.43,471.09 L283.66,471.28 L284.89,471.45 L286.12,471.61 L287.35,471.75 L288.58,471.88 L289.81,471.99 L291.04,472.09 L292.27,472.19 L293.50,472.27 L294.73,472.34 L295.96,472.41 L297.19,472.47 L298.42,472.53 L299.65,472.57 L300.88,472.62 L302.11,472.66 L303.34,472.69 L304.57,472.72 L305.80,472.75" fill="none" stroke="#2e9e5b" stroke-width="1.15" stroke-linejoin="round"/>
<path d="M207.40,419.62 L208.63,419.79 L209.86,419.98 L211.09,420.19 L212.32,420.42 L213.55,420.68 L214.78,420.96 L216.01,421.28 L217.24,421.62 L218.47,422.00 L219.70,422.42 L220.93,422.87 L222.16,423.38 L223.39,423.92 L224.62,424.52 L225.85,425.17 L227.08,425.87 L228.31,426.63 L229.54,427.45 L230.77,428.33 L232.00,429.27 L233.23,430.28 L234.46,431.34 L235.69,432.48 L236.92,433.67 L238.15,434.92 L239.38,436.22 L240.61,437.57 L241.84,438.97 L243.07,440.40 L244.30,441.86 L245.53,443.35 L246.76,444.84 L247.99,446.34 L249.22,447.84 L250.45,449.32 L251.68,450.78 L252.91,452.22 L254.14,453.61 L255.37,454.96 L256.60,456.26 L257.83,457.50 L259.06,458.69 L260.29,459.82 L261.52,460.88 L262.75,461.88 L263.98,462.82 L265.21,463.70 L266.44,464.51 L267.67,465.27 L268.90,465.97 L270.13,466.61 L271.36,467.20 L272.59,467.74 L273.82,468.24 L275.05,468.70 L276.28,469.11 L277.51,469.49 L278.74,469.83 L279.97,470.14 L281.20,470.42 L282.43,470.68 L283.66,470.91 L284.89,471.12 L286.12,471.31 L287.35,471.48 L288.58,471.63 L289.81,471.77 L291.04,471.90 L292.27,472.01 L293.50,472.11 L294.73,472.20 L295.96,472.28 L297.19,472.36 L298.42,472.42 L299.65,472.48 L300.88,472.53 L302.11,472.58 L303.34,472.63 L304.57,472.66 L305.80,472.70" fill="none" stroke="#2b4fa8" stroke-width="1.15" stroke-linejoin="round"/>
<path d="M207.40,419.12 L208.63,419.21 L209.86,419.31 L211.09,419.41 L212.32,419.52 L213.55,419.64 L214.78,419.78 L216.01,419.92 L217.24,420.07 L218.47,420.23 L219.70,420.41 L220.93,420.60 L222.16,420.81 L223.39,421.03 L224.62,421.27 L225.85,421.53 L227.08,421.81 L228.31,422.11 L229.54,422.43 L230.77,422.77 L232.00,423.14 L233.23,423.54 L234.46,423.96 L235.69,424.41 L236.92,424.88 L238.15,425.39 L239.38,425.93 L240.61,426.51 L241.84,427.12 L243.07,427.76 L244.30,428.44 L245.53,429.15 L246.76,429.90 L247.99,430.69 L249.22,431.52 L250.45,432.37 L251.68,433.27 L252.91,434.19 L254.14,435.15 L255.37,436.14 L256.60,437.16 L257.83,438.21 L259.06,439.28 L260.29,440.36 L261.52,441.47 L262.75,442.59 L263.98,443.72 L265.21,444.85 L266.44,445.99 L267.67,447.13 L268.90,448.26 L270.13,449.38 L271.36,450.49 L272.59,451.58 L273.82,452.65 L275.05,453.70 L276.28,454.73 L277.51,455.72 L278.74,456.69 L279.97,457.63 L281.20,458.53 L282.43,459.39 L283.66,460.22 L284.89,461.02 L286.12,461.78 L287.35,462.50 L288.58,463.18 L289.81,463.83 L291.04,464.45 L292.27,465.03 L293.50,465.58 L294.73,466.10 L295.96,466.58 L297.19,467.04 L298.42,467.46 L299.65,467.86 L300.88,468.24 L302.11,468.58 L303.34,468.91 L304.57,469.21 L305.80,469.49" fill="none" stroke="#e8352b" stroke-width="1.15" stroke-linejoin="round"/>
<path d="M207.40,416.33 L209.09,419.38 L205.71,419.38Z" fill="#2e9e5b" />
<line x1="224.59" y1="418.63" x2="224.59" y2="420.83" stroke="#2e9e5b" stroke-width="0.7" />
<line x1="222.99" y1="418.63" x2="226.19" y2="418.63" stroke="#2e9e5b" stroke-width="0.7" />
<line x1="222.99" y1="420.83" x2="226.19" y2="420.83" stroke="#2e9e5b" stroke-width="0.7" />
<path d="M224.59,417.98 L226.28,421.03 L222.90,421.03Z" fill="#2e9e5b" />
<line x1="232.00" y1="431.26" x2="232.00" y2="435.66" stroke="#2e9e5b" stroke-width="0.7" />
<line x1="230.40" y1="431.26" x2="233.60" y2="431.26" stroke="#2e9e5b" stroke-width="0.7" />
<line x1="230.40" y1="435.66" x2="233.60" y2="435.66" stroke="#2e9e5b" stroke-width="0.7" />
<path d="M232.00,431.71 L233.69,434.76 L230.31,434.76Z" fill="#2e9e5b" />
<line x1="249.19" y1="448.84" x2="249.19" y2="453.23" stroke="#2e9e5b" stroke-width="0.7" />
<line x1="247.59" y1="448.84" x2="250.79" y2="448.84" stroke="#2e9e5b" stroke-width="0.7" />
<line x1="247.59" y1="453.23" x2="250.79" y2="453.23" stroke="#2e9e5b" stroke-width="0.7" />
<path d="M249.19,449.28 L250.88,452.33 L247.50,452.33Z" fill="#2e9e5b" />
<line x1="256.60" y1="454.60" x2="256.60" y2="457.35" stroke="#2e9e5b" stroke-width="0.7" />
<line x1="255.00" y1="454.60" x2="258.20" y2="454.60" stroke="#2e9e5b" stroke-width="0.7" />
<line x1="255.00" y1="457.35" x2="258.20" y2="457.35" stroke="#2e9e5b" stroke-width="0.7" />
<path d="M256.60,454.22 L258.29,457.28 L254.91,457.28Z" fill="#2e9e5b" />
<line x1="273.79" y1="464.49" x2="273.79" y2="467.23" stroke="#2e9e5b" stroke-width="0.7" />
<line x1="272.19" y1="464.49" x2="275.39" y2="464.49" stroke="#2e9e5b" stroke-width="0.7" />
<line x1="272.19" y1="467.23" x2="275.39" y2="467.23" stroke="#2e9e5b" stroke-width="0.7" />
<path d="M273.79,464.11 L275.48,467.16 L272.10,467.16Z" fill="#2e9e5b" />
<line x1="281.20" y1="467.51" x2="281.20" y2="469.70" stroke="#2e9e5b" stroke-width="0.7" />
<line x1="279.60" y1="467.51" x2="282.80" y2="467.51" stroke="#2e9e5b" stroke-width="0.7" />
<line x1="279.60" y1="469.70" x2="282.80" y2="469.70" stroke="#2e9e5b" stroke-width="0.7" />
<path d="M281.20,466.85 L282.89,469.91 L279.51,469.91Z" fill="#2e9e5b" />
<line x1="298.39" y1="470.53" x2="298.39" y2="472.18" stroke="#2e9e5b" stroke-width="0.7" />
<line x1="296.79" y1="470.53" x2="299.99" y2="470.53" stroke="#2e9e5b" stroke-width="0.7" />
<line x1="296.79" y1="472.18" x2="299.99" y2="472.18" stroke="#2e9e5b" stroke-width="0.7" />
<path d="M298.39,469.60 L300.08,472.65 L296.70,472.65Z" fill="#2e9e5b" />
<path d="M207.40,419.84 L209.09,416.78 L205.71,416.78Z" fill="#2b4fa8" />
<line x1="224.59" y1="419.18" x2="224.59" y2="421.38" stroke="#2b4fa8" stroke-width="0.7" />
<line x1="222.99" y1="419.18" x2="226.19" y2="419.18" stroke="#2b4fa8" stroke-width="0.7" />
<line x1="222.99" y1="421.38" x2="226.19" y2="421.38" stroke="#2b4fa8" stroke-width="0.7" />
<path d="M224.59,422.04 L226.28,418.98 L222.90,418.98Z" fill="#2b4fa8" />
<line x1="232.00" y1="426.87" x2="232.00" y2="431.26" stroke="#2b4fa8" stroke-width="0.7" />
<line x1="230.40" y1="426.87" x2="233.60" y2="426.87" stroke="#2b4fa8" stroke-width="0.7" />
<line x1="230.40" y1="431.26" x2="233.60" y2="431.26" stroke="#2b4fa8" stroke-width="0.7" />
<path d="M232.00,430.82 L233.69,427.77 L230.31,427.77Z" fill="#2b4fa8" />
<line x1="249.19" y1="447.46" x2="249.19" y2="451.31" stroke="#2b4fa8" stroke-width="0.7" />
<line x1="247.59" y1="447.46" x2="250.79" y2="447.46" stroke="#2b4fa8" stroke-width="0.7" />
<line x1="247.59" y1="451.31" x2="250.79" y2="451.31" stroke="#2b4fa8" stroke-width="0.7" />
<path d="M249.19,451.14 L250.88,448.09 L247.50,448.09Z" fill="#2b4fa8" />
<line x1="256.60" y1="454.05" x2="256.60" y2="456.80" stroke="#2b4fa8" stroke-width="0.7" />
<line x1="255.00" y1="454.05" x2="258.20" y2="454.05" stroke="#2b4fa8" stroke-width="0.7" />
<line x1="255.00" y1="456.80" x2="258.20" y2="456.80" stroke="#2b4fa8" stroke-width="0.7" />
<path d="M256.60,457.18 L258.29,454.13 L254.91,454.13Z" fill="#2b4fa8" />
<line x1="273.79" y1="460.92" x2="273.79" y2="466.41" stroke="#2b4fa8" stroke-width="0.7" />
<line x1="272.19" y1="460.92" x2="275.39" y2="460.92" stroke="#2b4fa8" stroke-width="0.7" />
<line x1="272.19" y1="466.41" x2="275.39" y2="466.41" stroke="#2b4fa8" stroke-width="0.7" />
<path d="M273.79,465.42 L275.48,462.36 L272.10,462.36Z" fill="#2b4fa8" />
<line x1="281.20" y1="462.02" x2="281.20" y2="467.51" stroke="#2b4fa8" stroke-width="0.7" />
<line x1="279.60" y1="462.02" x2="282.80" y2="462.02" stroke="#2b4fa8" stroke-width="0.7" />
<line x1="279.60" y1="467.51" x2="282.80" y2="467.51" stroke="#2b4fa8" stroke-width="0.7" />
<path d="M281.20,466.52 L282.89,463.46 L279.51,463.46Z" fill="#2b4fa8" />
<line x1="298.39" y1="469.98" x2="298.39" y2="472.73" stroke="#2b4fa8" stroke-width="0.7" />
<line x1="296.79" y1="469.98" x2="299.99" y2="469.98" stroke="#2b4fa8" stroke-width="0.7" />
<line x1="296.79" y1="472.73" x2="299.99" y2="472.73" stroke="#2b4fa8" stroke-width="0.7" />
<path d="M298.39,473.11 L300.08,470.05 L296.70,470.05Z" fill="#2b4fa8" />
<line x1="305.80" y1="471.90" x2="305.80" y2="473.00" stroke="#2b4fa8" stroke-width="0.7" />
<line x1="304.20" y1="471.90" x2="307.40" y2="471.90" stroke="#2b4fa8" stroke-width="0.7" />
<line x1="304.20" y1="473.00" x2="307.40" y2="473.00" stroke="#2b4fa8" stroke-width="0.7" />
<path d="M305.80,474.21 L307.49,471.15 L304.11,471.15Z" fill="#2b4fa8" />
<line x1="207.40" y1="417.53" x2="207.40" y2="418.63" stroke="#e8352b" stroke-width="0.7" />
<line x1="205.80" y1="417.53" x2="209.00" y2="417.53" stroke="#e8352b" stroke-width="0.7" />
<line x1="205.80" y1="418.63" x2="209.00" y2="418.63" stroke="#e8352b" stroke-width="0.7" />
<circle cx="207.40" cy="418.08" r="1.30" fill="#e8352b" />
<line x1="224.59" y1="416.99" x2="224.59" y2="421.38" stroke="#e8352b" stroke-width="0.7" />
<line x1="222.99" y1="416.99" x2="226.19" y2="416.99" stroke="#e8352b" stroke-width="0.7" />
<line x1="222.99" y1="421.38" x2="226.19" y2="421.38" stroke="#e8352b" stroke-width="0.7" />
<circle cx="224.59" cy="419.18" r="1.30" fill="#e8352b" />
<line x1="232.00" y1="418.91" x2="232.00" y2="422.75" stroke="#e8352b" stroke-width="0.7" />
<line x1="230.40" y1="418.91" x2="233.60" y2="418.91" stroke="#e8352b" stroke-width="0.7" />
<line x1="230.40" y1="422.75" x2="233.60" y2="422.75" stroke="#e8352b" stroke-width="0.7" />
<circle cx="232.00" cy="420.83" r="1.30" fill="#e8352b" />
<line x1="249.19" y1="427.97" x2="249.19" y2="432.36" stroke="#e8352b" stroke-width="0.7" />
<line x1="247.59" y1="427.97" x2="250.79" y2="427.97" stroke="#e8352b" stroke-width="0.7" />
<line x1="247.59" y1="432.36" x2="250.79" y2="432.36" stroke="#e8352b" stroke-width="0.7" />
<circle cx="249.19" cy="430.17" r="1.30" fill="#e8352b" />
<line x1="256.60" y1="436.48" x2="256.60" y2="441.42" stroke="#e8352b" stroke-width="0.7" />
<line x1="255.00" y1="436.48" x2="258.20" y2="436.48" stroke="#e8352b" stroke-width="0.7" />
<line x1="255.00" y1="441.42" x2="258.20" y2="441.42" stroke="#e8352b" stroke-width="0.7" />
<circle cx="256.60" cy="438.95" r="1.30" fill="#e8352b" />
<line x1="273.79" y1="447.74" x2="273.79" y2="454.33" stroke="#e8352b" stroke-width="0.7" />
<line x1="272.19" y1="447.74" x2="275.39" y2="447.74" stroke="#e8352b" stroke-width="0.7" />
<line x1="272.19" y1="454.33" x2="275.39" y2="454.33" stroke="#e8352b" stroke-width="0.7" />
<circle cx="273.79" cy="451.03" r="1.30" fill="#e8352b" />
<line x1="281.20" y1="455.43" x2="281.20" y2="463.12" stroke="#e8352b" stroke-width="0.7" />
<line x1="279.60" y1="455.43" x2="282.80" y2="455.43" stroke="#e8352b" stroke-width="0.7" />
<line x1="279.60" y1="463.12" x2="282.80" y2="463.12" stroke="#e8352b" stroke-width="0.7" />
<circle cx="281.20" cy="459.27" r="1.30" fill="#e8352b" />
<line x1="298.39" y1="466.41" x2="298.39" y2="470.80" stroke="#e8352b" stroke-width="0.7" />
<line x1="296.79" y1="466.41" x2="299.99" y2="466.41" stroke="#e8352b" stroke-width="0.7" />
<line x1="296.79" y1="470.80" x2="299.99" y2="470.80" stroke="#e8352b" stroke-width="0.7" />
<circle cx="298.39" cy="468.61" r="1.30" fill="#e8352b" />
<line x1="305.80" y1="470.80" x2="305.80" y2="473.00" stroke="#e8352b" stroke-width="0.7" />
<line x1="304.20" y1="470.80" x2="307.40" y2="470.80" stroke="#e8352b" stroke-width="0.7" />
<line x1="304.20" y1="473.00" x2="307.40" y2="473.00" stroke="#e8352b" stroke-width="0.7" />
<circle cx="305.80" cy="471.90" r="1.30" fill="#e8352b" />
<line x1="207.40" y1="406.80" x2="207.40" y2="473.45" stroke="#111" stroke-width="0.9" />
<line x1="206.95" y1="473.00" x2="306.10" y2="473.00" stroke="#111" stroke-width="0.9" />
<line x1="205.30" y1="473.00" x2="207.40" y2="473.00" stroke="#111" stroke-width="0.75" />
<text x="203.90" y="475.05" font-size="5.7" text-anchor="end">0</text>
<line x1="205.30" y1="462.02" x2="207.40" y2="462.02" stroke="#111" stroke-width="0.75" />
<text x="203.90" y="464.07" font-size="5.7" text-anchor="end">20</text>
<line x1="205.30" y1="451.03" x2="207.40" y2="451.03" stroke="#111" stroke-width="0.75" />
<text x="203.90" y="453.09" font-size="5.7" text-anchor="end">40</text>
<line x1="205.30" y1="440.05" x2="207.40" y2="440.05" stroke="#111" stroke-width="0.75" />
<text x="203.90" y="442.10" font-size="5.7" text-anchor="end">60</text>
<line x1="205.30" y1="429.07" x2="207.40" y2="429.07" stroke="#111" stroke-width="0.75" />
<text x="203.90" y="431.12" font-size="5.7" text-anchor="end">80</text>
<line x1="205.30" y1="418.08" x2="207.40" y2="418.08" stroke="#111" stroke-width="0.75" />
<text x="203.90" y="420.14" font-size="5.7" text-anchor="end">100</text>
<line x1="205.30" y1="407.10" x2="207.40" y2="407.10" stroke="#111" stroke-width="0.75" />
<text x="203.90" y="409.15" font-size="5.7" text-anchor="end">120</text>
<line x1="207.40" y1="473.00" x2="207.40" y2="475.40" stroke="#111" stroke-width="0.7" />
<line x1="214.81" y1="473.00" x2="214.81" y2="474.50" stroke="#111" stroke-width="0.6" />
<line x1="219.14" y1="473.00" x2="219.14" y2="474.50" stroke="#111" stroke-width="0.6" />
<line x1="222.21" y1="473.00" x2="222.21" y2="474.50" stroke="#111" stroke-width="0.6" />
<line x1="224.59" y1="473.00" x2="224.59" y2="474.50" stroke="#111" stroke-width="0.6" />
<line x1="226.54" y1="473.00" x2="226.54" y2="474.50" stroke="#111" stroke-width="0.6" />
<line x1="228.19" y1="473.00" x2="228.19" y2="474.50" stroke="#111" stroke-width="0.6" />
<line x1="229.62" y1="473.00" x2="229.62" y2="474.50" stroke="#111" stroke-width="0.6" />
<line x1="230.87" y1="473.00" x2="230.87" y2="474.50" stroke="#111" stroke-width="0.6" />
<text x="207.40" y="483.09" font-size="5.8" text-anchor="middle">10<tspan dy="-2.20" font-size="4.29">−4</tspan></text>
<line x1="232.00" y1="473.00" x2="232.00" y2="475.40" stroke="#111" stroke-width="0.7" />
<line x1="239.41" y1="473.00" x2="239.41" y2="474.50" stroke="#111" stroke-width="0.6" />
<line x1="243.74" y1="473.00" x2="243.74" y2="474.50" stroke="#111" stroke-width="0.6" />
<line x1="246.81" y1="473.00" x2="246.81" y2="474.50" stroke="#111" stroke-width="0.6" />
<line x1="249.19" y1="473.00" x2="249.19" y2="474.50" stroke="#111" stroke-width="0.6" />
<line x1="251.14" y1="473.00" x2="251.14" y2="474.50" stroke="#111" stroke-width="0.6" />
<line x1="252.79" y1="473.00" x2="252.79" y2="474.50" stroke="#111" stroke-width="0.6" />
<line x1="254.22" y1="473.00" x2="254.22" y2="474.50" stroke="#111" stroke-width="0.6" />
<line x1="255.47" y1="473.00" x2="255.47" y2="474.50" stroke="#111" stroke-width="0.6" />
<text x="232.00" y="483.09" font-size="5.8" text-anchor="middle">10<tspan dy="-2.20" font-size="4.29">−3</tspan></text>
<line x1="256.60" y1="473.00" x2="256.60" y2="475.40" stroke="#111" stroke-width="0.7" />
<line x1="264.01" y1="473.00" x2="264.01" y2="474.50" stroke="#111" stroke-width="0.6" />
<line x1="268.34" y1="473.00" x2="268.34" y2="474.50" stroke="#111" stroke-width="0.6" />
<line x1="271.41" y1="473.00" x2="271.41" y2="474.50" stroke="#111" stroke-width="0.6" />
<line x1="273.79" y1="473.00" x2="273.79" y2="474.50" stroke="#111" stroke-width="0.6" />
<line x1="275.74" y1="473.00" x2="275.74" y2="474.50" stroke="#111" stroke-width="0.6" />
<line x1="277.39" y1="473.00" x2="277.39" y2="474.50" stroke="#111" stroke-width="0.6" />
<line x1="278.82" y1="473.00" x2="278.82" y2="474.50" stroke="#111" stroke-width="0.6" />
<line x1="280.07" y1="473.00" x2="280.07" y2="474.50" stroke="#111" stroke-width="0.6" />
<text x="256.60" y="483.09" font-size="5.8" text-anchor="middle">10<tspan dy="-2.20" font-size="4.29">−2</tspan></text>
<line x1="281.20" y1="473.00" x2="281.20" y2="475.40" stroke="#111" stroke-width="0.7" />
<line x1="288.61" y1="473.00" x2="288.61" y2="474.50" stroke="#111" stroke-width="0.6" />
<line x1="292.94" y1="473.00" x2="292.94" y2="474.50" stroke="#111" stroke-width="0.6" />
<line x1="296.01" y1="473.00" x2="296.01" y2="474.50" stroke="#111" stroke-width="0.6" />
<line x1="298.39" y1="473.00" x2="298.39" y2="474.50" stroke="#111" stroke-width="0.6" />
<line x1="300.34" y1="473.00" x2="300.34" y2="474.50" stroke="#111" stroke-width="0.6" />
<line x1="301.99" y1="473.00" x2="301.99" y2="474.50" stroke="#111" stroke-width="0.6" />
<line x1="303.42" y1="473.00" x2="303.42" y2="474.50" stroke="#111" stroke-width="0.6" />
<line x1="304.67" y1="473.00" x2="304.67" y2="474.50" stroke="#111" stroke-width="0.6" />
<text x="281.20" y="483.09" font-size="5.8" text-anchor="middle">10<tspan dy="-2.20" font-size="4.29">−1</tspan></text>
<line x1="305.80" y1="473.00" x2="305.80" y2="475.40" stroke="#111" stroke-width="0.7" />
<text x="306.60" y="483.09" font-size="5.8" text-anchor="middle">10<tspan dy="-2.20" font-size="4.29">0</tspan></text>
<text x="0" y="2.23" font-size="6.2" text-anchor="middle" textLength="44.50" lengthAdjust="spacingAndGlyphs" transform="translate(188.75 440.05) rotate(-90)">Cell viability (%)</text>
<text x="255.90" y="491.57" font-size="6.3" text-anchor="middle" textLength="46.80" lengthAdjust="spacingAndGlyphs">Erastin (mmol/L)</text>
<line x1="287.50" y1="405.75" x2="295.00" y2="405.75" stroke="#e8352b" stroke-width="0.8" />
<circle cx="291.25" cy="405.75" r="1.30" fill="#e8352b" />
<text x="298.60" y="407.87" font-size="5.9" textLength="20.20" lengthAdjust="spacingAndGlyphs">shCON</text>
<line x1="287.50" y1="415.60" x2="295.00" y2="415.60" stroke="#2b4fa8" stroke-width="0.8" />
<path d="M291.25,417.16 L292.75,414.43 L289.75,414.43Z" fill="#2b4fa8" />
<text x="298.60" y="417.72" font-size="5.9" textLength="29.70" lengthAdjust="spacingAndGlyphs">shASS1#1</text>
<line x1="287.50" y1="425.50" x2="295.00" y2="425.50" stroke="#2e9e5b" stroke-width="0.8" />
<path d="M291.25,423.94 L292.75,426.67 L289.75,426.67Z" fill="#2e9e5b" />
<text x="298.60" y="427.62" font-size="5.9" textLength="29.70" lengthAdjust="spacingAndGlyphs">shASS1#2</text>
<text x="371.75" y="390.52" font-size="8.4" textLength="57.70" lengthAdjust="spacingAndGlyphs">HCC827/Era-R</text>
<path d="M373.50,418.10 L374.75,418.20 L375.99,418.31 L377.24,418.44 L378.48,418.57 L379.73,418.73 L380.97,418.90 L382.21,419.09 L383.46,419.30 L384.70,419.53 L385.95,419.79 L387.19,420.07 L388.44,420.39 L389.69,420.73 L390.93,421.11 L392.18,421.52 L393.42,421.98 L394.67,422.48 L395.91,423.03 L397.16,423.62 L398.40,424.27 L399.64,424.97 L400.89,425.73 L402.13,426.55 L403.38,427.43 L404.62,428.37 L405.87,429.37 L407.12,430.44 L408.36,431.57 L409.61,432.76 L410.85,434.01 L412.09,435.32 L413.34,436.67 L414.58,438.06 L415.83,439.50 L417.07,440.96 L418.32,442.45 L419.56,443.95 L420.81,445.45 L422.06,446.95 L423.30,448.43 L424.55,449.90 L425.79,451.33 L427.03,452.73 L428.28,454.08 L429.52,455.38 L430.77,456.63 L432.01,457.83 L433.26,458.96 L434.50,460.02 L435.75,461.03 L437.00,461.97 L438.24,462.85 L439.49,463.67 L440.73,464.43 L441.98,465.13 L443.22,465.78 L444.47,466.37 L445.71,466.92 L446.95,467.42 L448.20,467.87 L449.44,468.29 L450.69,468.67 L451.94,469.01 L453.18,469.33 L454.43,469.61 L455.67,469.87 L456.91,470.10 L458.16,470.31 L459.40,470.50 L460.65,470.67 L461.89,470.83 L463.14,470.96 L464.38,471.09 L465.63,471.20 L466.88,471.30 L468.12,471.40 L469.37,471.48 L470.61,471.55 L471.86,471.62 L473.10,471.68" fill="none" stroke="#2e9e5b" stroke-width="1.15" stroke-linejoin="round"/>
<path d="M373.50,417.85 L374.75,417.93 L375.99,418.01 L377.24,418.10 L378.48,418.21 L379.73,418.32 L380.97,418.45 L382.21,418.59 L383.46,418.74 L384.70,418.91 L385.95,419.11 L387.19,419.32 L388.44,419.55 L389.69,419.81 L390.93,420.10 L392.18,420.41 L393.42,420.76 L394.67,421.14 L395.91,421.56 L397.16,422.02 L398.40,422.52 L399.64,423.07 L400.89,423.67 L402.13,424.32 L403.38,425.03 L404.62,425.79 L405.87,426.61 L407.12,427.50 L408.36,428.44 L409.61,429.45 L410.85,430.53 L412.09,431.66 L413.34,432.86 L414.58,434.11 L415.83,435.42 L417.07,436.77 L418.32,438.17 L419.56,439.61 L420.81,441.08 L422.06,442.56 L423.30,444.06 L424.55,445.57 L425.79,447.06 L427.03,448.55 L428.28,450.01 L429.52,451.44 L430.77,452.84 L432.01,454.18 L433.26,455.48 L434.50,456.73 L435.75,457.91 L437.00,459.04 L438.24,460.10 L439.49,461.10 L440.73,462.04 L441.98,462.92 L443.22,463.73 L444.47,464.48 L445.71,465.18 L446.95,465.82 L448.20,466.42 L449.44,466.96 L450.69,467.45 L451.94,467.91 L453.18,468.32 L454.43,468.70 L455.67,469.04 L456.91,469.35 L458.16,469.63 L459.40,469.89 L460.65,470.12 L461.89,470.33 L463.14,470.51 L464.38,470.68 L465.63,470.84 L466.88,470.97 L468.12,471.10 L469.37,471.21 L470.61,471.31 L471.86,471.40 L473.10,471.48" fill="none" stroke="#2b4fa8" stroke-width="1.15" stroke-linejoin="round"/>
<path d="M373.50,417.75 L374.75,417.80 L375.99,417.85 L377.24,417.91 L378.48,417.97 L379.73,418.04 L380.97,418.11 L382.21,418.20 L383.46,418.28 L384.70,418.38 L385.95,418.48 L387.19,418.60 L388.44,418.72 L389.69,418.85 L390.93,418.99 L392.18,419.15 L393.42,419.32 L394.67,419.50 L395.91,419.70 L397.16,419.92 L398.40,420.15 L399.64,420.40 L400.89,420.67 L402.13,420.96 L403.38,421.27 L404.62,421.61 L405.87,421.97 L407.12,422.36 L408.36,422.78 L409.61,423.23 L410.85,423.71 L412.09,424.22 L413.34,424.77 L414.58,425.35 L415.83,425.97 L417.07,426.62 L418.32,427.32 L419.56,428.05 L420.81,428.82 L422.06,429.63 L423.30,430.48 L424.55,431.37 L425.79,432.30 L427.03,433.26 L428.28,434.26 L429.52,435.29 L430.77,436.36 L432.01,437.45 L433.26,438.57 L434.50,439.70 L435.75,440.86 L437.00,442.03 L438.24,443.21 L439.49,444.40 L440.73,445.58 L441.98,446.77 L443.22,447.94 L444.47,449.11 L445.71,450.26 L446.95,451.38 L448.20,452.49 L449.44,453.57 L450.69,454.62 L451.94,455.63 L453.18,456.61 L454.43,457.56 L455.67,458.47 L456.91,459.34 L458.16,460.17 L459.40,460.96 L460.65,461.71 L461.89,462.43 L463.14,463.10 L464.38,463.74 L465.63,464.34 L466.88,464.90 L468.12,465.43 L469.37,465.93 L470.61,466.39 L471.86,466.83 L473.10,467.23" fill="none" stroke="#e8352b" stroke-width="1.15" stroke-linejoin="round"/>
<line x1="373.50" y1="417.20" x2="373.50" y2="419.40" stroke="#2e9e5b" stroke-width="0.7" />
<line x1="371.90" y1="417.20" x2="375.10" y2="417.20" stroke="#2e9e5b" stroke-width="0.7" />
<line x1="371.90" y1="419.40" x2="375.10" y2="419.40" stroke="#2e9e5b" stroke-width="0.7" />
<path d="M373.50,416.54 L375.19,419.60 L371.81,419.60Z" fill="#2e9e5b" />
<line x1="390.90" y1="417.75" x2="390.90" y2="419.95" stroke="#2e9e5b" stroke-width="0.7" />
<line x1="389.30" y1="417.75" x2="392.50" y2="417.75" stroke="#2e9e5b" stroke-width="0.7" />
<line x1="389.30" y1="419.95" x2="392.50" y2="419.95" stroke="#2e9e5b" stroke-width="0.7" />
<path d="M390.90,417.09 L392.59,420.15 L389.21,420.15Z" fill="#2e9e5b" />
<line x1="398.40" y1="420.50" x2="398.40" y2="423.80" stroke="#2e9e5b" stroke-width="0.7" />
<line x1="396.80" y1="420.50" x2="400.00" y2="420.50" stroke="#2e9e5b" stroke-width="0.7" />
<line x1="396.80" y1="423.80" x2="400.00" y2="423.80" stroke="#2e9e5b" stroke-width="0.7" />
<path d="M398.40,420.39 L400.09,423.45 L396.71,423.45Z" fill="#2e9e5b" />
<line x1="415.80" y1="437.00" x2="415.80" y2="441.40" stroke="#2e9e5b" stroke-width="0.7" />
<line x1="414.20" y1="437.00" x2="417.40" y2="437.00" stroke="#2e9e5b" stroke-width="0.7" />
<line x1="414.20" y1="441.40" x2="417.40" y2="441.40" stroke="#2e9e5b" stroke-width="0.7" />
<path d="M415.80,437.44 L417.49,440.50 L414.11,440.50Z" fill="#2e9e5b" />
<line x1="423.30" y1="446.90" x2="423.30" y2="451.30" stroke="#2e9e5b" stroke-width="0.7" />
<line x1="421.70" y1="446.90" x2="424.90" y2="446.90" stroke="#2e9e5b" stroke-width="0.7" />
<line x1="421.70" y1="451.30" x2="424.90" y2="451.30" stroke="#2e9e5b" stroke-width="0.7" />
<path d="M423.30,447.34 L424.99,450.40 L421.61,450.40Z" fill="#2e9e5b" />
<line x1="440.70" y1="460.10" x2="440.70" y2="463.40" stroke="#2e9e5b" stroke-width="0.7" />
<line x1="439.10" y1="460.10" x2="442.30" y2="460.10" stroke="#2e9e5b" stroke-width="0.7" />
<line x1="439.10" y1="463.40" x2="442.30" y2="463.40" stroke="#2e9e5b" stroke-width="0.7" />
<path d="M440.70,460.00 L442.39,463.05 L439.01,463.05Z" fill="#2e9e5b" />
<line x1="448.20" y1="465.60" x2="448.20" y2="468.90" stroke="#2e9e5b" stroke-width="0.7" />
<line x1="446.60" y1="465.60" x2="449.80" y2="465.60" stroke="#2e9e5b" stroke-width="0.7" />
<line x1="446.60" y1="468.90" x2="449.80" y2="468.90" stroke="#2e9e5b" stroke-width="0.7" />
<path d="M448.20,465.50 L449.89,468.55 L446.51,468.55Z" fill="#2e9e5b" />
<line x1="465.60" y1="470.55" x2="465.60" y2="471.65" stroke="#2e9e5b" stroke-width="0.7" />
<line x1="464.00" y1="470.55" x2="467.20" y2="470.55" stroke="#2e9e5b" stroke-width="0.7" />
<line x1="464.00" y1="471.65" x2="467.20" y2="471.65" stroke="#2e9e5b" stroke-width="0.7" />
<path d="M465.60,469.34 L467.29,472.40 L463.91,472.40Z" fill="#2e9e5b" />
<line x1="373.50" y1="416.65" x2="373.50" y2="418.85" stroke="#2b4fa8" stroke-width="0.7" />
<line x1="371.90" y1="416.65" x2="375.10" y2="416.65" stroke="#2b4fa8" stroke-width="0.7" />
<line x1="371.90" y1="418.85" x2="375.10" y2="418.85" stroke="#2b4fa8" stroke-width="0.7" />
<path d="M373.50,419.50 L375.19,416.45 L371.81,416.45Z" fill="#2b4fa8" />
<line x1="390.90" y1="417.75" x2="390.90" y2="419.95" stroke="#2b4fa8" stroke-width="0.7" />
<line x1="389.30" y1="417.75" x2="392.50" y2="417.75" stroke="#2b4fa8" stroke-width="0.7" />
<line x1="389.30" y1="419.95" x2="392.50" y2="419.95" stroke="#2b4fa8" stroke-width="0.7" />
<path d="M390.90,420.60 L392.59,417.55 L389.21,417.55Z" fill="#2b4fa8" />
<line x1="398.40" y1="419.95" x2="398.40" y2="422.15" stroke="#2b4fa8" stroke-width="0.7" />
<line x1="396.80" y1="419.95" x2="400.00" y2="419.95" stroke="#2b4fa8" stroke-width="0.7" />
<line x1="396.80" y1="422.15" x2="400.00" y2="422.15" stroke="#2b4fa8" stroke-width="0.7" />
<path d="M398.40,422.80 L400.09,419.75 L396.71,419.75Z" fill="#2b4fa8" />
<line x1="415.80" y1="431.50" x2="415.80" y2="435.90" stroke="#2b4fa8" stroke-width="0.7" />
<line x1="414.20" y1="431.50" x2="417.40" y2="431.50" stroke="#2b4fa8" stroke-width="0.7" />
<line x1="414.20" y1="435.90" x2="417.40" y2="435.90" stroke="#2b4fa8" stroke-width="0.7" />
<path d="M415.80,435.45 L417.49,432.40 L414.11,432.40Z" fill="#2b4fa8" />
<line x1="423.30" y1="443.32" x2="423.30" y2="448.27" stroke="#2b4fa8" stroke-width="0.7" />
<line x1="421.70" y1="443.32" x2="424.90" y2="443.32" stroke="#2b4fa8" stroke-width="0.7" />
<line x1="421.70" y1="448.27" x2="424.90" y2="448.27" stroke="#2b4fa8" stroke-width="0.7" />
<path d="M423.30,447.56 L424.99,444.50 L421.61,444.50Z" fill="#2b4fa8" />
<line x1="440.70" y1="456.80" x2="440.70" y2="461.20" stroke="#2b4fa8" stroke-width="0.7" />
<line x1="439.10" y1="456.80" x2="442.30" y2="456.80" stroke="#2b4fa8" stroke-width="0.7" />
<line x1="439.10" y1="461.20" x2="442.30" y2="461.20" stroke="#2b4fa8" stroke-width="0.7" />
<path d="M440.70,460.75 L442.39,457.70 L439.01,457.70Z" fill="#2b4fa8" />
<line x1="448.20" y1="463.40" x2="448.20" y2="467.80" stroke="#2b4fa8" stroke-width="0.7" />
<line x1="446.60" y1="463.40" x2="449.80" y2="463.40" stroke="#2b4fa8" stroke-width="0.7" />
<line x1="446.60" y1="467.80" x2="449.80" y2="467.80" stroke="#2b4fa8" stroke-width="0.7" />
<path d="M448.20,467.35 L449.89,464.30 L446.51,464.30Z" fill="#2b4fa8" />
<line x1="465.60" y1="468.07" x2="465.60" y2="470.82" stroke="#2b4fa8" stroke-width="0.7" />
<line x1="464.00" y1="468.07" x2="467.20" y2="468.07" stroke="#2b4fa8" stroke-width="0.7" />
<line x1="464.00" y1="470.82" x2="467.20" y2="470.82" stroke="#2b4fa8" stroke-width="0.7" />
<path d="M465.60,471.20 L467.29,468.15 L463.91,468.15Z" fill="#2b4fa8" />
<line x1="473.10" y1="471.10" x2="473.10" y2="472.20" stroke="#2b4fa8" stroke-width="0.7" />
<line x1="471.50" y1="471.10" x2="474.70" y2="471.10" stroke="#2b4fa8" stroke-width="0.7" />
<line x1="471.50" y1="472.20" x2="474.70" y2="472.20" stroke="#2b4fa8" stroke-width="0.7" />
<path d="M473.10,473.40 L474.79,470.35 L471.41,470.35Z" fill="#2b4fa8" />
<line x1="373.50" y1="415.55" x2="373.50" y2="418.85" stroke="#e8352b" stroke-width="0.7" />
<line x1="371.90" y1="415.55" x2="375.10" y2="415.55" stroke="#e8352b" stroke-width="0.7" />
<line x1="371.90" y1="418.85" x2="375.10" y2="418.85" stroke="#e8352b" stroke-width="0.7" />
<circle cx="373.50" cy="417.20" r="1.30" fill="#e8352b" />
<line x1="390.90" y1="416.65" x2="390.90" y2="419.95" stroke="#e8352b" stroke-width="0.7" />
<line x1="389.30" y1="416.65" x2="392.50" y2="416.65" stroke="#e8352b" stroke-width="0.7" />
<line x1="389.30" y1="419.95" x2="392.50" y2="419.95" stroke="#e8352b" stroke-width="0.7" />
<circle cx="390.90" cy="418.30" r="1.30" fill="#e8352b" />
<line x1="398.40" y1="418.30" x2="398.40" y2="421.60" stroke="#e8352b" stroke-width="0.7" />
<line x1="396.80" y1="418.30" x2="400.00" y2="418.30" stroke="#e8352b" stroke-width="0.7" />
<line x1="396.80" y1="421.60" x2="400.00" y2="421.60" stroke="#e8352b" stroke-width="0.7" />
<circle cx="398.40" cy="419.95" r="1.30" fill="#e8352b" />
<line x1="415.80" y1="421.05" x2="415.80" y2="425.45" stroke="#e8352b" stroke-width="0.7" />
<line x1="414.20" y1="421.05" x2="417.40" y2="421.05" stroke="#e8352b" stroke-width="0.7" />
<line x1="414.20" y1="425.45" x2="417.40" y2="425.45" stroke="#e8352b" stroke-width="0.7" />
<circle cx="415.80" cy="423.25" r="1.30" fill="#e8352b" />
<line x1="423.30" y1="425.72" x2="423.30" y2="430.67" stroke="#e8352b" stroke-width="0.7" />
<line x1="421.70" y1="425.72" x2="424.90" y2="425.72" stroke="#e8352b" stroke-width="0.7" />
<line x1="421.70" y1="430.67" x2="424.90" y2="430.67" stroke="#e8352b" stroke-width="0.7" />
<circle cx="423.30" cy="428.20" r="1.30" fill="#e8352b" />
<line x1="440.70" y1="445.80" x2="440.70" y2="449.10" stroke="#e8352b" stroke-width="0.7" />
<line x1="439.10" y1="445.80" x2="442.30" y2="445.80" stroke="#e8352b" stroke-width="0.7" />
<line x1="439.10" y1="449.10" x2="442.30" y2="449.10" stroke="#e8352b" stroke-width="0.7" />
<circle cx="440.70" cy="447.45" r="1.30" fill="#e8352b" />
<line x1="448.20" y1="453.50" x2="448.20" y2="457.90" stroke="#e8352b" stroke-width="0.7" />
<line x1="446.60" y1="453.50" x2="449.80" y2="453.50" stroke="#e8352b" stroke-width="0.7" />
<line x1="446.60" y1="457.90" x2="449.80" y2="457.90" stroke="#e8352b" stroke-width="0.7" />
<circle cx="448.20" cy="455.70" r="1.30" fill="#e8352b" />
<line x1="465.60" y1="460.10" x2="465.60" y2="467.80" stroke="#e8352b" stroke-width="0.7" />
<line x1="464.00" y1="460.10" x2="467.20" y2="460.10" stroke="#e8352b" stroke-width="0.7" />
<line x1="464.00" y1="467.80" x2="467.20" y2="467.80" stroke="#e8352b" stroke-width="0.7" />
<circle cx="465.60" cy="463.95" r="1.30" fill="#e8352b" />
<line x1="473.10" y1="465.88" x2="473.10" y2="467.52" stroke="#e8352b" stroke-width="0.7" />
<line x1="471.50" y1="465.88" x2="474.70" y2="465.88" stroke="#e8352b" stroke-width="0.7" />
<line x1="471.50" y1="467.52" x2="474.70" y2="467.52" stroke="#e8352b" stroke-width="0.7" />
<circle cx="473.10" cy="466.70" r="1.30" fill="#e8352b" />
<line x1="373.50" y1="405.90" x2="373.50" y2="472.65" stroke="#111" stroke-width="0.9" />
<line x1="373.05" y1="472.20" x2="473.40" y2="472.20" stroke="#111" stroke-width="0.9" />
<line x1="371.40" y1="472.20" x2="373.50" y2="472.20" stroke="#111" stroke-width="0.75" />
<text x="370.00" y="474.25" font-size="5.7" text-anchor="end">0</text>
<line x1="371.40" y1="461.20" x2="373.50" y2="461.20" stroke="#111" stroke-width="0.75" />
<text x="370.00" y="463.25" font-size="5.7" text-anchor="end">20</text>
<line x1="371.40" y1="450.20" x2="373.50" y2="450.20" stroke="#111" stroke-width="0.75" />
<text x="370.00" y="452.25" font-size="5.7" text-anchor="end">40</text>
<line x1="371.40" y1="439.20" x2="373.50" y2="439.20" stroke="#111" stroke-width="0.75" />
<text x="370.00" y="441.25" font-size="5.7" text-anchor="end">60</text>
<line x1="371.40" y1="428.20" x2="373.50" y2="428.20" stroke="#111" stroke-width="0.75" />
<text x="370.00" y="430.25" font-size="5.7" text-anchor="end">80</text>
<line x1="371.40" y1="417.20" x2="373.50" y2="417.20" stroke="#111" stroke-width="0.75" />
<text x="370.00" y="419.25" font-size="5.7" text-anchor="end">100</text>
<line x1="371.40" y1="406.20" x2="373.50" y2="406.20" stroke="#111" stroke-width="0.75" />
<text x="370.00" y="408.25" font-size="5.7" text-anchor="end">120</text>
<line x1="373.50" y1="472.20" x2="373.50" y2="474.60" stroke="#111" stroke-width="0.7" />
<line x1="381.00" y1="472.20" x2="381.00" y2="473.70" stroke="#111" stroke-width="0.6" />
<line x1="385.38" y1="472.20" x2="385.38" y2="473.70" stroke="#111" stroke-width="0.6" />
<line x1="388.49" y1="472.20" x2="388.49" y2="473.70" stroke="#111" stroke-width="0.6" />
<line x1="390.90" y1="472.20" x2="390.90" y2="473.70" stroke="#111" stroke-width="0.6" />
<line x1="392.88" y1="472.20" x2="392.88" y2="473.70" stroke="#111" stroke-width="0.6" />
<line x1="394.54" y1="472.20" x2="394.54" y2="473.70" stroke="#111" stroke-width="0.6" />
<line x1="395.99" y1="472.20" x2="395.99" y2="473.70" stroke="#111" stroke-width="0.6" />
<line x1="397.26" y1="472.20" x2="397.26" y2="473.70" stroke="#111" stroke-width="0.6" />
<text x="373.50" y="482.29" font-size="5.8" text-anchor="middle">10<tspan dy="-2.20" font-size="4.29">−4</tspan></text>
<line x1="398.40" y1="472.20" x2="398.40" y2="474.60" stroke="#111" stroke-width="0.7" />
<line x1="405.90" y1="472.20" x2="405.90" y2="473.70" stroke="#111" stroke-width="0.6" />
<line x1="410.28" y1="472.20" x2="410.28" y2="473.70" stroke="#111" stroke-width="0.6" />
<line x1="413.39" y1="472.20" x2="413.39" y2="473.70" stroke="#111" stroke-width="0.6" />
<line x1="415.80" y1="472.20" x2="415.80" y2="473.70" stroke="#111" stroke-width="0.6" />
<line x1="417.78" y1="472.20" x2="417.78" y2="473.70" stroke="#111" stroke-width="0.6" />
<line x1="419.44" y1="472.20" x2="419.44" y2="473.70" stroke="#111" stroke-width="0.6" />
<line x1="420.89" y1="472.20" x2="420.89" y2="473.70" stroke="#111" stroke-width="0.6" />
<line x1="422.16" y1="472.20" x2="422.16" y2="473.70" stroke="#111" stroke-width="0.6" />
<text x="398.40" y="482.29" font-size="5.8" text-anchor="middle">10<tspan dy="-2.20" font-size="4.29">−3</tspan></text>
<line x1="423.30" y1="472.20" x2="423.30" y2="474.60" stroke="#111" stroke-width="0.7" />
<line x1="430.80" y1="472.20" x2="430.80" y2="473.70" stroke="#111" stroke-width="0.6" />
<line x1="435.18" y1="472.20" x2="435.18" y2="473.70" stroke="#111" stroke-width="0.6" />
<line x1="438.29" y1="472.20" x2="438.29" y2="473.70" stroke="#111" stroke-width="0.6" />
<line x1="440.70" y1="472.20" x2="440.70" y2="473.70" stroke="#111" stroke-width="0.6" />
<line x1="442.68" y1="472.20" x2="442.68" y2="473.70" stroke="#111" stroke-width="0.6" />
<line x1="444.34" y1="472.20" x2="444.34" y2="473.70" stroke="#111" stroke-width="0.6" />
<line x1="445.79" y1="472.20" x2="445.79" y2="473.70" stroke="#111" stroke-width="0.6" />
<line x1="447.06" y1="472.20" x2="447.06" y2="473.70" stroke="#111" stroke-width="0.6" />
<text x="423.30" y="482.29" font-size="5.8" text-anchor="middle">10<tspan dy="-2.20" font-size="4.29">−2</tspan></text>
<line x1="448.20" y1="472.20" x2="448.20" y2="474.60" stroke="#111" stroke-width="0.7" />
<line x1="455.70" y1="472.20" x2="455.70" y2="473.70" stroke="#111" stroke-width="0.6" />
<line x1="460.08" y1="472.20" x2="460.08" y2="473.70" stroke="#111" stroke-width="0.6" />
<line x1="463.19" y1="472.20" x2="463.19" y2="473.70" stroke="#111" stroke-width="0.6" />
<line x1="465.60" y1="472.20" x2="465.60" y2="473.70" stroke="#111" stroke-width="0.6" />
<line x1="467.58" y1="472.20" x2="467.58" y2="473.70" stroke="#111" stroke-width="0.6" />
<line x1="469.24" y1="472.20" x2="469.24" y2="473.70" stroke="#111" stroke-width="0.6" />
<line x1="470.69" y1="472.20" x2="470.69" y2="473.70" stroke="#111" stroke-width="0.6" />
<line x1="471.96" y1="472.20" x2="471.96" y2="473.70" stroke="#111" stroke-width="0.6" />
<text x="448.20" y="482.29" font-size="5.8" text-anchor="middle">10<tspan dy="-2.20" font-size="4.29">−1</tspan></text>
<line x1="473.10" y1="472.20" x2="473.10" y2="474.60" stroke="#111" stroke-width="0.7" />
<text x="473.90" y="482.29" font-size="5.8" text-anchor="middle">10<tspan dy="-2.20" font-size="4.29">0</tspan></text>
<text x="0" y="2.23" font-size="6.2" text-anchor="middle" textLength="44.50" lengthAdjust="spacingAndGlyphs" transform="translate(353.80 439.20) rotate(-90)">Cell viability (%)</text>
<text x="425.90" y="491.57" font-size="6.3" text-anchor="middle" textLength="46.80" lengthAdjust="spacingAndGlyphs">Erastin (mmol/L)</text>
<line x1="453.75" y1="404.25" x2="461.25" y2="404.25" stroke="#e8352b" stroke-width="0.8" />
<circle cx="457.50" cy="404.25" r="1.30" fill="#e8352b" />
<text x="465.00" y="406.37" font-size="5.9" textLength="20.20" lengthAdjust="spacingAndGlyphs">shCON</text>
<line x1="453.75" y1="414.25" x2="461.25" y2="414.25" stroke="#2b4fa8" stroke-width="0.8" />
<path d="M457.50,415.81 L459.00,413.08 L456.00,413.08Z" fill="#2b4fa8" />
<text x="465.00" y="416.37" font-size="5.9" textLength="29.70" lengthAdjust="spacingAndGlyphs">shASS1#1</text>
<line x1="453.75" y1="423.75" x2="461.25" y2="423.75" stroke="#2e9e5b" stroke-width="0.8" />
<path d="M457.50,422.19 L459.00,424.92 L456.00,424.92Z" fill="#2e9e5b" />
<text x="465.00" y="425.87" font-size="5.9" textLength="29.70" lengthAdjust="spacingAndGlyphs">shASS1#2</text>
<text x="18.60" y="516.96" font-size="12.1" font-weight="bold" fill="#111" style="stroke:#111;">I</text>
<text x="3.00" y="530.24" font-size="7.6" textLength="45.60" lengthAdjust="spacingAndGlyphs">TCGA_LUAD</text>
<rect x="2.50" y="538.20" width="5.00" height="2.30" fill="#3b78b5" />
<rect x="7.90" y="538.20" width="5.00" height="2.30" fill="#f39321" />
<text x="14.10" y="541.56" font-size="4.6" style="stroke-width:0.12px;" textLength="23.80" lengthAdjust="spacingAndGlyphs">FDR ≤ 0.05</text>
<rect x="42.10" y="538.20" width="5.00" height="2.30" fill="#b9cde6" />
<rect x="47.50" y="538.20" width="5.00" height="2.30" fill="#f9c76a" />
<text x="53.70" y="541.56" font-size="4.6" style="stroke-width:0.12px;" textLength="24.50" lengthAdjust="spacingAndGlyphs">FDR &gt; 0.05</text>
<rect x="101.25" y="551.27" width="145.23" height="5.45" fill="#3b78b5" />
<text x="100.45" y="555.73" font-size="4.8" text-anchor="end" style="stroke-width:0.12px;">Ribosome</text>
<rect x="101.25" y="557.22" width="113.94" height="5.45" fill="#3b78b5" />
<text x="100.45" y="561.67" font-size="4.8" text-anchor="end" style="stroke-width:0.12px;">Parkinson disease</text>
<rect x="101.25" y="563.15" width="106.60" height="5.45" fill="#3b78b5" />
<text x="100.45" y="567.61" font-size="4.8" text-anchor="end" style="stroke-width:0.12px;">Peroxisome</text>
<rect x="101.25" y="569.10" width="96.33" height="5.45" fill="#3b78b5" />
<text x="100.45" y="573.55" font-size="4.8" text-anchor="end" style="stroke-width:0.12px;" textLength="89.50" lengthAdjust="spacingAndGlyphs">Valine, leucine and isoleucine degradation</text>
<rect x="101.25" y="575.03" width="95.84" height="5.45" fill="#3b78b5" />
<text x="100.45" y="579.49" font-size="4.8" text-anchor="end" style="stroke-width:0.12px;" textLength="98.50" lengthAdjust="spacingAndGlyphs">Amino sugar and nucleotide sugar metabolism</text>
<rect x="101.25" y="580.98" width="89.49" height="5.45" fill="#3b78b5" />
<text x="100.45" y="585.43" font-size="4.8" text-anchor="end" style="stroke-width:0.12px;">Sulfur relay system</text>
<rect x="101.25" y="586.91" width="88.02" height="5.45" fill="#3b78b5" />
<text x="100.45" y="591.37" font-size="4.8" text-anchor="end" style="stroke-width:0.12px;">Drug metabolism</text>
<rect x="101.25" y="592.86" width="87.04" height="5.45" fill="#3b78b5" />
<text x="100.45" y="597.31" font-size="4.8" text-anchor="end" style="stroke-width:0.12px;">Arachidonic acid metabolism</text>
<rect x="101.25" y="598.79" width="87.04" height="5.45" fill="#3b78b5" />
<text x="100.45" y="603.25" font-size="4.8" text-anchor="end" style="stroke-width:0.12px;">Thiamine metabolism</text>
<rect x="101.25" y="604.74" width="84.60" height="5.45" fill="#3b78b5" />
<text x="100.45" y="609.19" font-size="4.8" text-anchor="end" style="stroke-width:0.12px;">Autoimmune thyroid disease</text>
<rect x="101.25" y="610.67" width="84.60" height="5.45" fill="#3b78b5" />
<text x="100.45" y="615.31" font-size="5.3" text-anchor="end" fill="#e0202a" style="stroke:#e0202a;" textLength="26.80" lengthAdjust="spacingAndGlyphs">Ferroptosis</text>
<line x1="56.05" y1="613.40" x2="69.05" y2="613.40" stroke="#e0202a" stroke-width="1.3" />
<path d="M72.05,613.40 L67.05,610.80 L67.05,616.00Z" fill="#e0202a" />
<rect x="101.25" y="616.62" width="82.64" height="5.45" fill="#3b78b5" />
<text x="100.45" y="621.07" font-size="4.8" text-anchor="end" style="stroke-width:0.12px;" textLength="87.00" lengthAdjust="spacingAndGlyphs">Glyoxylate and dicarboxylate metabolism</text>
<rect x="23.99" y="622.55" width="77.26" height="5.45" fill="#f39321" />
<text x="102.55" y="627.01" font-size="4.8" style="stroke-width:0.12px;">Other types of O-glycan biosynthesis</text>
<rect x="14.21" y="628.50" width="87.04" height="5.45" fill="#f39321" />
<text x="102.55" y="632.95" font-size="4.8" style="stroke-width:0.12px;">Endocrine resistance</text>
<rect x="11.76" y="634.43" width="89.49" height="5.45" fill="#f39321" />
<text x="102.55" y="638.89" font-size="4.8" style="stroke-width:0.12px;">mRNA surveillance pathway</text>
<rect x="11.76" y="640.38" width="89.49" height="5.45" fill="#f39321" />
<text x="102.55" y="644.83" font-size="4.8" style="stroke-width:0.12px;">DNA replication</text>
<rect x="11.76" y="646.31" width="89.49" height="5.45" fill="#f39321" />
<text x="102.55" y="650.77" font-size="4.8" style="stroke-width:0.12px;">Focal adhesion</text>
<rect x="11.76" y="652.25" width="89.49" height="5.45" fill="#f39321" />
<text x="102.55" y="656.71" font-size="4.8" style="stroke-width:0.12px;">Homologous recombination</text>
<line x1="101.25" y1="550.77" x2="101.25" y2="660.40" stroke="#444" stroke-width="0.5" />
<line x1="3.75" y1="660.40" x2="248.50" y2="660.40" stroke="#444" stroke-width="0.5" />
<line x1="3.45" y1="660.40" x2="3.45" y2="661.60" stroke="#555" stroke-width="0.5" />
<text x="5.05" y="668.66" font-size="4.6" text-anchor="middle" style="stroke-width:0.12px;">−2.0</text>
<line x1="27.90" y1="660.40" x2="27.90" y2="661.60" stroke="#555" stroke-width="0.5" />
<text x="27.90" y="668.66" font-size="4.6" text-anchor="middle" style="stroke-width:0.12px;">−1.5</text>
<line x1="52.35" y1="660.40" x2="52.35" y2="661.60" stroke="#555" stroke-width="0.5" />
<text x="52.35" y="668.66" font-size="4.6" text-anchor="middle" style="stroke-width:0.12px;">−1.0</text>
<line x1="76.80" y1="660.40" x2="76.80" y2="661.60" stroke="#555" stroke-width="0.5" />
<text x="76.80" y="668.66" font-size="4.6" text-anchor="middle" style="stroke-width:0.12px;">−0.5</text>
<line x1="101.25" y1="660.40" x2="101.25" y2="661.60" stroke="#555" stroke-width="0.5" />
<text x="101.25" y="668.66" font-size="4.6" text-anchor="middle" style="stroke-width:0.12px;">0.0</text>
<line x1="125.70" y1="660.40" x2="125.70" y2="661.60" stroke="#555" stroke-width="0.5" />
<text x="125.70" y="668.66" font-size="4.6" text-anchor="middle" style="stroke-width:0.12px;">0.5</text>
<line x1="150.15" y1="660.40" x2="150.15" y2="661.60" stroke="#555" stroke-width="0.5" />
<text x="150.15" y="668.66" font-size="4.6" text-anchor="middle" style="stroke-width:0.12px;">1.0</text>
<line x1="174.60" y1="660.40" x2="174.60" y2="661.60" stroke="#555" stroke-width="0.5" />
<text x="174.60" y="668.66" font-size="4.6" text-anchor="middle" style="stroke-width:0.12px;">1.5</text>
<line x1="199.05" y1="660.40" x2="199.05" y2="661.60" stroke="#555" stroke-width="0.5" />
<text x="199.05" y="668.66" font-size="4.6" text-anchor="middle" style="stroke-width:0.12px;">2.0</text>
<line x1="223.50" y1="660.40" x2="223.50" y2="661.60" stroke="#555" stroke-width="0.5" />
<text x="223.50" y="668.66" font-size="4.6" text-anchor="middle" style="stroke-width:0.12px;">2.5</text>
<line x1="247.95" y1="660.40" x2="247.95" y2="661.60" stroke="#555" stroke-width="0.5" />
<text x="246.75" y="668.66" font-size="4.6" text-anchor="middle" style="stroke-width:0.12px;">3.0</text>
<text x="109.00" y="678.49" font-size="5.8" text-anchor="middle" textLength="75.00" lengthAdjust="spacingAndGlyphs">Normalized enrichment score</text>
<text x="267.60" y="517.16" font-size="12.1" font-weight="bold" fill="#111" style="stroke:#111;">J</text>
<text x="286.25" y="530.10" font-size="8.6" textLength="51.80" lengthAdjust="spacingAndGlyphs">TCGA_LUSC</text>
<rect x="275.60" y="537.70" width="5.40" height="2.30" fill="#3b78b5" />
<rect x="281.40" y="537.70" width="5.40" height="2.30" fill="#f39321" />
<text x="288.00" y="541.06" font-size="4.6" style="stroke-width:0.12px;" textLength="23.80" lengthAdjust="spacingAndGlyphs">FDR ≤ 0.05</text>
<rect x="316.00" y="537.70" width="5.40" height="2.30" fill="#b9cde6" />
<rect x="321.80" y="537.70" width="5.40" height="2.30" fill="#f9c76a" />
<text x="328.40" y="541.06" font-size="4.6" style="stroke-width:0.12px;" textLength="24.50" lengthAdjust="spacingAndGlyphs">FDR &gt; 0.05</text>
<rect x="364.50" y="550.02" width="141.38" height="5.95" fill="#3b78b5" />
<text x="363.70" y="554.73" font-size="4.8" text-anchor="end" style="stroke-width:0.12px;">Ribosome</text>
<rect x="364.50" y="556.48" width="127.97" height="5.95" fill="#3b78b5" />
<text x="363.70" y="561.18" font-size="4.8" text-anchor="end" style="stroke-width:0.12px;">Parkinson disease</text>
<rect x="364.50" y="562.93" width="118.68" height="5.95" fill="#3b78b5" />
<text x="363.70" y="567.63" font-size="4.8" text-anchor="end" style="stroke-width:0.12px;">Proteasome</text>
<rect x="364.50" y="569.38" width="109.39" height="5.95" fill="#3b78b5" />
<text x="363.70" y="574.09" font-size="4.8" text-anchor="end" style="stroke-width:0.12px;">Allograft rejection</text>
<rect x="364.50" y="575.84" width="107.33" height="5.95" fill="#3b78b5" />
<text x="363.70" y="580.54" font-size="4.8" text-anchor="end" style="stroke-width:0.12px;">Chemical carcinogenesis</text>
<rect x="364.50" y="582.29" width="106.30" height="5.95" fill="#3b78b5" />
<text x="363.70" y="587.17" font-size="5.3" text-anchor="end" fill="#e0202a" style="stroke:#e0202a;" textLength="27.00" lengthAdjust="spacingAndGlyphs">Ferroptosis</text>
<line x1="319.60" y1="585.26" x2="332.10" y2="585.26" stroke="#e0202a" stroke-width="1.3" />
<path d="M335.10,585.26 L330.10,582.66 L330.10,587.87Z" fill="#e0202a" />
<rect x="364.50" y="588.74" width="106.30" height="5.95" fill="#3b78b5" />
<text x="363.70" y="593.45" font-size="4.8" text-anchor="end" style="stroke-width:0.12px;">Pertussis</text>
<rect x="304.90" y="595.20" width="59.60" height="5.95" fill="#f9c76a" />
<text x="365.80" y="599.90" font-size="4.8" style="stroke-width:0.12px;">Basal transcription factors</text>
<rect x="303.10" y="601.65" width="61.40" height="5.95" fill="#f9c76a" />
<text x="365.80" y="606.35" font-size="4.8" style="stroke-width:0.12px;">RNA transport</text>
<rect x="300.52" y="608.10" width="63.98" height="5.95" fill="#f9c76a" />
<text x="365.80" y="612.80" font-size="4.8" style="stroke-width:0.12px;">Breast cancer</text>
<rect x="298.71" y="614.55" width="65.79" height="5.95" fill="#f9c76a" />
<text x="365.80" y="619.26" font-size="4.8" style="stroke-width:0.12px;">Other types of O-glycan biosynthesis</text>
<rect x="297.42" y="621.01" width="67.08" height="5.95" fill="#f9c76a" />
<text x="365.80" y="625.71" font-size="4.8" style="stroke-width:0.12px;" textLength="119.30" lengthAdjust="spacingAndGlyphs">Arrhythmogenic right ventricular cardiomyopathy (ARVC)</text>
<rect x="292.52" y="627.46" width="71.98" height="5.95" fill="#f9c76a" />
<text x="365.80" y="632.16" font-size="4.8" style="stroke-width:0.12px;">Nicotine addiction</text>
<rect x="289.94" y="633.91" width="74.56" height="5.95" fill="#f9c76a" />
<text x="365.80" y="638.62" font-size="4.8" style="stroke-width:0.12px;">Homologous recombination</text>
<rect x="289.42" y="640.37" width="75.08" height="5.95" fill="#f9c76a" />
<text x="365.80" y="645.07" font-size="4.8" style="stroke-width:0.12px;">Lysine degradation</text>
<rect x="288.65" y="646.82" width="75.85" height="5.95" fill="#f9c76a" />
<text x="365.80" y="651.52" font-size="4.8" style="stroke-width:0.12px;">Hippo signaling pathway</text>
<rect x="284.26" y="653.27" width="80.24" height="5.95" fill="#f9c76a" />
<text x="365.80" y="657.98" font-size="4.8" style="stroke-width:0.12px;">Phosphatidylinositol signaling system</text>
<line x1="364.50" y1="549.52" x2="364.50" y2="660.40" stroke="#444" stroke-width="0.5" />
<line x1="261.30" y1="660.40" x2="518.50" y2="660.40" stroke="#444" stroke-width="0.5" />
<line x1="261.30" y1="660.40" x2="261.30" y2="661.60" stroke="#555" stroke-width="0.5" />
<text x="261.50" y="668.66" font-size="4.6" text-anchor="middle" style="stroke-width:0.12px;">−2.0</text>
<line x1="287.10" y1="660.40" x2="287.10" y2="661.60" stroke="#555" stroke-width="0.5" />
<text x="287.10" y="668.66" font-size="4.6" text-anchor="middle" style="stroke-width:0.12px;">−1.5</text>
<line x1="312.90" y1="660.40" x2="312.90" y2="661.60" stroke="#555" stroke-width="0.5" />
<text x="312.90" y="668.66" font-size="4.6" text-anchor="middle" style="stroke-width:0.12px;">−1.0</text>
<line x1="338.70" y1="660.40" x2="338.70" y2="661.60" stroke="#555" stroke-width="0.5" />
<text x="338.70" y="668.66" font-size="4.6" text-anchor="middle" style="stroke-width:0.12px;">−0.5</text>
<line x1="364.50" y1="660.40" x2="364.50" y2="661.60" stroke="#555" stroke-width="0.5" />
<text x="364.50" y="668.66" font-size="4.6" text-anchor="middle" style="stroke-width:0.12px;">0.0</text>
<line x1="390.30" y1="660.40" x2="390.30" y2="661.60" stroke="#555" stroke-width="0.5" />
<text x="390.30" y="668.66" font-size="4.6" text-anchor="middle" style="stroke-width:0.12px;">0.5</text>
<line x1="416.10" y1="660.40" x2="416.10" y2="661.60" stroke="#555" stroke-width="0.5" />
<text x="416.10" y="668.66" font-size="4.6" text-anchor="middle" style="stroke-width:0.12px;">1.0</text>
<line x1="441.90" y1="660.40" x2="441.90" y2="661.60" stroke="#555" stroke-width="0.5" />
<text x="441.90" y="668.66" font-size="4.6" text-anchor="middle" style="stroke-width:0.12px;">1.5</text>
<line x1="467.70" y1="660.40" x2="467.70" y2="661.60" stroke="#555" stroke-width="0.5" />
<text x="467.70" y="668.66" font-size="4.6" text-anchor="middle" style="stroke-width:0.12px;">2.0</text>
<line x1="493.50" y1="660.40" x2="493.50" y2="661.60" stroke="#555" stroke-width="0.5" />
<text x="493.50" y="668.66" font-size="4.6" text-anchor="middle" style="stroke-width:0.12px;">2.5</text>
<line x1="519.30" y1="660.40" x2="519.30" y2="661.60" stroke="#555" stroke-width="0.5" />
<text x="517.70" y="668.66" font-size="4.6" text-anchor="middle" style="stroke-width:0.12px;">3.0</text>
<text x="373.50" y="678.89" font-size="5.8" text-anchor="middle" textLength="75.00" lengthAdjust="spacingAndGlyphs">Normalized enrichment score</text>
</g>
</svg>
</body></html>
